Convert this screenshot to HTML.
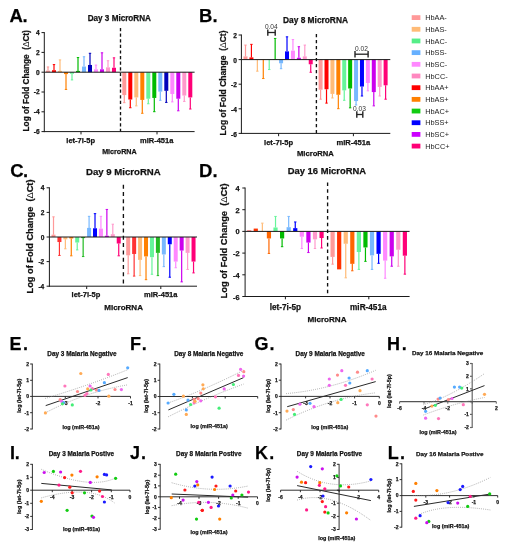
<!DOCTYPE html>
<html><head><meta charset="utf-8"><title>Figure</title>
<style>
html,body{margin:0;padding:0;background:#fff;}
body{width:507px;height:550px;overflow:hidden;}
svg{display:block;font-family:"Liberation Sans", sans-serif;filter:blur(0.4px);}
text.b{stroke:#151515;stroke-width:0.25px;stroke-linejoin:round;}
</style></head>
<body>
<svg width="507" height="550" viewBox="0 0 507 550">
<rect x="0" y="0" width="507" height="550" fill="#fff"/>
<text class="b" x="119.30" y="20.60" font-size="8.15" font-weight="bold" text-anchor="middle" fill="#111">Day 3 MicroRNA</text>
<text class="b" x="29.20" y="80.80" font-size="8.5" font-weight="bold" text-anchor="middle" fill="#111" transform="rotate(-90 29.20 80.80)" textLength="101.20" lengthAdjust="spacingAndGlyphs">Log of Fold Change  (<tspan font-weight="normal" stroke="none">Δ</tspan>Ct)</text>
<line x1="48.00" y1="70.62" x2="48.00" y2="66.95" stroke="#ff9a9a" stroke-width="1.2" stroke-linecap="butt"/>
<line x1="46.80" y1="66.95" x2="49.20" y2="66.95" stroke="#ff9a9a" stroke-width="1.0" stroke-linecap="butt"/>
<rect x="46.00" y="70.62" width="4.00" height="1.58" fill="#ff9a9a"/>
<line x1="54.00" y1="70.22" x2="54.00" y2="64.58" stroke="#ff0000" stroke-width="1.2" stroke-linecap="butt"/>
<line x1="52.80" y1="64.58" x2="55.20" y2="64.58" stroke="#ff0000" stroke-width="1.0" stroke-linecap="butt"/>
<rect x="52.00" y="70.22" width="4.00" height="1.98" fill="#ff0000"/>
<line x1="60.00" y1="70.91" x2="60.00" y2="59.92" stroke="#ffbb77" stroke-width="1.2" stroke-linecap="butt"/>
<line x1="58.80" y1="59.92" x2="61.20" y2="59.92" stroke="#ffbb77" stroke-width="1.0" stroke-linecap="butt"/>
<rect x="58.00" y="70.91" width="4.00" height="1.29" fill="#ffbb77"/>
<line x1="66.00" y1="74.08" x2="66.00" y2="89.43" stroke="#ff8000" stroke-width="1.2" stroke-linecap="butt"/>
<line x1="64.80" y1="89.43" x2="67.20" y2="89.43" stroke="#ff8000" stroke-width="1.0" stroke-linecap="butt"/>
<rect x="64.00" y="72.20" width="4.00" height="1.88" fill="#ff8000"/>
<line x1="72.00" y1="73.78" x2="72.00" y2="79.92" stroke="#66f59a" stroke-width="1.2" stroke-linecap="butt"/>
<line x1="70.80" y1="79.92" x2="73.20" y2="79.92" stroke="#66f59a" stroke-width="1.0" stroke-linecap="butt"/>
<rect x="70.00" y="72.20" width="4.00" height="1.58" fill="#66f59a"/>
<line x1="78.00" y1="70.91" x2="78.00" y2="57.55" stroke="#00bb00" stroke-width="1.2" stroke-linecap="butt"/>
<line x1="76.80" y1="57.55" x2="79.20" y2="57.55" stroke="#00bb00" stroke-width="1.0" stroke-linecap="butt"/>
<rect x="76.00" y="70.91" width="4.00" height="1.29" fill="#00bb00"/>
<line x1="84.00" y1="66.56" x2="84.00" y2="56.76" stroke="#77b8ff" stroke-width="1.2" stroke-linecap="butt"/>
<line x1="82.80" y1="56.76" x2="85.20" y2="56.76" stroke="#77b8ff" stroke-width="1.0" stroke-linecap="butt"/>
<rect x="82.00" y="66.56" width="4.00" height="5.64" fill="#77b8ff"/>
<line x1="90.00" y1="64.97" x2="90.00" y2="53.29" stroke="#0000bb" stroke-width="1.2" stroke-linecap="butt"/>
<line x1="88.80" y1="53.29" x2="91.20" y2="53.29" stroke="#0000bb" stroke-width="1.0" stroke-linecap="butt"/>
<rect x="88.00" y="64.97" width="4.00" height="7.23" fill="#0000bb"/>
<line x1="96.00" y1="69.33" x2="96.00" y2="65.07" stroke="#ff88ff" stroke-width="1.2" stroke-linecap="butt"/>
<line x1="94.80" y1="65.07" x2="97.20" y2="65.07" stroke="#ff88ff" stroke-width="1.0" stroke-linecap="butt"/>
<rect x="94.00" y="69.33" width="4.00" height="2.87" fill="#ff88ff"/>
<line x1="102.00" y1="69.33" x2="102.00" y2="52.80" stroke="#cc00ee" stroke-width="1.2" stroke-linecap="butt"/>
<line x1="100.80" y1="52.80" x2="103.20" y2="52.80" stroke="#cc00ee" stroke-width="1.0" stroke-linecap="butt"/>
<rect x="100.00" y="69.33" width="4.00" height="2.87" fill="#cc00ee"/>
<line x1="108.00" y1="67.35" x2="108.00" y2="60.72" stroke="#ff99cc" stroke-width="1.2" stroke-linecap="butt"/>
<line x1="106.80" y1="60.72" x2="109.20" y2="60.72" stroke="#ff99cc" stroke-width="1.0" stroke-linecap="butt"/>
<rect x="106.00" y="67.35" width="4.00" height="4.85" fill="#ff99cc"/>
<line x1="114.00" y1="67.75" x2="114.00" y2="57.84" stroke="#ff0077" stroke-width="1.2" stroke-linecap="butt"/>
<line x1="112.80" y1="57.84" x2="115.20" y2="57.84" stroke="#ff0077" stroke-width="1.0" stroke-linecap="butt"/>
<rect x="112.00" y="67.75" width="4.00" height="4.45" fill="#ff0077"/>
<line x1="124.30" y1="95.07" x2="124.30" y2="102.69" stroke="#ff9a9a" stroke-width="1.2" stroke-linecap="butt"/>
<line x1="123.10" y1="102.69" x2="125.50" y2="102.69" stroke="#ff9a9a" stroke-width="1.0" stroke-linecap="butt"/>
<rect x="122.30" y="72.20" width="4.00" height="22.87" fill="#ff9a9a"/>
<line x1="130.30" y1="99.52" x2="130.30" y2="107.74" stroke="#ff0000" stroke-width="1.2" stroke-linecap="butt"/>
<line x1="129.10" y1="107.74" x2="131.50" y2="107.74" stroke="#ff0000" stroke-width="1.0" stroke-linecap="butt"/>
<rect x="128.30" y="72.20" width="4.00" height="27.32" fill="#ff0000"/>
<line x1="136.30" y1="97.44" x2="136.30" y2="105.86" stroke="#ffbb77" stroke-width="1.2" stroke-linecap="butt"/>
<line x1="135.10" y1="105.86" x2="137.50" y2="105.86" stroke="#ffbb77" stroke-width="1.0" stroke-linecap="butt"/>
<rect x="134.30" y="72.20" width="4.00" height="25.24" fill="#ffbb77"/>
<line x1="142.30" y1="99.92" x2="142.30" y2="113.29" stroke="#ff8000" stroke-width="1.2" stroke-linecap="butt"/>
<line x1="141.10" y1="113.29" x2="143.50" y2="113.29" stroke="#ff8000" stroke-width="1.0" stroke-linecap="butt"/>
<rect x="140.30" y="72.20" width="4.00" height="27.72" fill="#ff8000"/>
<line x1="148.30" y1="98.73" x2="148.30" y2="103.78" stroke="#66f59a" stroke-width="1.2" stroke-linecap="butt"/>
<line x1="147.10" y1="103.78" x2="149.50" y2="103.78" stroke="#66f59a" stroke-width="1.0" stroke-linecap="butt"/>
<rect x="146.30" y="72.20" width="4.00" height="26.53" fill="#66f59a"/>
<line x1="154.30" y1="97.94" x2="154.30" y2="111.70" stroke="#00bb00" stroke-width="1.2" stroke-linecap="butt"/>
<line x1="153.10" y1="111.70" x2="155.50" y2="111.70" stroke="#00bb00" stroke-width="1.0" stroke-linecap="butt"/>
<rect x="152.30" y="72.20" width="4.00" height="25.74" fill="#00bb00"/>
<line x1="160.30" y1="91.60" x2="160.30" y2="100.32" stroke="#77b8ff" stroke-width="1.2" stroke-linecap="butt"/>
<line x1="159.10" y1="100.32" x2="161.50" y2="100.32" stroke="#77b8ff" stroke-width="1.0" stroke-linecap="butt"/>
<rect x="158.30" y="72.20" width="4.00" height="19.40" fill="#77b8ff"/>
<line x1="166.30" y1="90.81" x2="166.30" y2="102.40" stroke="#0000bb" stroke-width="1.2" stroke-linecap="butt"/>
<line x1="165.10" y1="102.40" x2="167.50" y2="102.40" stroke="#0000bb" stroke-width="1.0" stroke-linecap="butt"/>
<rect x="164.30" y="72.20" width="4.00" height="18.61" fill="#0000bb"/>
<line x1="172.30" y1="93.98" x2="172.30" y2="101.90" stroke="#ff88ff" stroke-width="1.2" stroke-linecap="butt"/>
<line x1="171.10" y1="101.90" x2="173.50" y2="101.90" stroke="#ff88ff" stroke-width="1.0" stroke-linecap="butt"/>
<rect x="170.30" y="72.20" width="4.00" height="21.78" fill="#ff88ff"/>
<line x1="178.30" y1="98.73" x2="178.30" y2="110.81" stroke="#cc00ee" stroke-width="1.2" stroke-linecap="butt"/>
<line x1="177.10" y1="110.81" x2="179.50" y2="110.81" stroke="#cc00ee" stroke-width="1.0" stroke-linecap="butt"/>
<rect x="176.30" y="72.20" width="4.00" height="26.53" fill="#cc00ee"/>
<line x1="184.30" y1="95.56" x2="184.30" y2="101.41" stroke="#ff99cc" stroke-width="1.2" stroke-linecap="butt"/>
<line x1="183.10" y1="101.41" x2="185.50" y2="101.41" stroke="#ff99cc" stroke-width="1.0" stroke-linecap="butt"/>
<rect x="182.30" y="72.20" width="4.00" height="23.36" fill="#ff99cc"/>
<line x1="190.30" y1="97.44" x2="190.30" y2="109.03" stroke="#ff0077" stroke-width="1.2" stroke-linecap="butt"/>
<line x1="189.10" y1="109.03" x2="191.50" y2="109.03" stroke="#ff0077" stroke-width="1.0" stroke-linecap="butt"/>
<rect x="188.30" y="72.20" width="4.00" height="25.24" fill="#ff0077"/>
<line x1="44.30" y1="72.20" x2="194.60" y2="72.20" stroke="#1a1a1a" stroke-width="1.0" stroke-linecap="butt"/>
<line x1="120.50" y1="28.00" x2="120.50" y2="131.60" stroke="#111" stroke-width="1.35" stroke-dasharray="3.2,2.4" stroke-linecap="butt"/>
<line x1="44.30" y1="32.10" x2="44.30" y2="132.10" stroke="#1a1a1a" stroke-width="1.0" stroke-linecap="butt"/>
<line x1="43.80" y1="131.60" x2="194.60" y2="131.60" stroke="#1a1a1a" stroke-width="1.0" stroke-linecap="butt"/>
<line x1="41.50" y1="32.60" x2="44.30" y2="32.60" stroke="#1a1a1a" stroke-width="1.0" stroke-linecap="butt"/>
<text class="b" x="39.70" y="34.98" font-size="6.6" font-weight="bold" text-anchor="end" fill="#111">4</text>
<line x1="41.50" y1="52.40" x2="44.30" y2="52.40" stroke="#1a1a1a" stroke-width="1.0" stroke-linecap="butt"/>
<text class="b" x="39.70" y="54.78" font-size="6.6" font-weight="bold" text-anchor="end" fill="#111">2</text>
<line x1="41.50" y1="72.20" x2="44.30" y2="72.20" stroke="#1a1a1a" stroke-width="1.0" stroke-linecap="butt"/>
<text class="b" x="39.70" y="74.58" font-size="6.6" font-weight="bold" text-anchor="end" fill="#111">0</text>
<line x1="41.50" y1="92.00" x2="44.30" y2="92.00" stroke="#1a1a1a" stroke-width="1.0" stroke-linecap="butt"/>
<text class="b" x="39.70" y="94.38" font-size="6.6" font-weight="bold" text-anchor="end" fill="#111">-2</text>
<line x1="41.50" y1="111.80" x2="44.30" y2="111.80" stroke="#1a1a1a" stroke-width="1.0" stroke-linecap="butt"/>
<text class="b" x="39.70" y="114.18" font-size="6.6" font-weight="bold" text-anchor="end" fill="#111">-4</text>
<line x1="41.50" y1="131.60" x2="44.30" y2="131.60" stroke="#1a1a1a" stroke-width="1.0" stroke-linecap="butt"/>
<text class="b" x="39.70" y="133.98" font-size="6.6" font-weight="bold" text-anchor="end" fill="#111">-6</text>
<line x1="81.00" y1="131.60" x2="81.00" y2="134.40" stroke="#1a1a1a" stroke-width="1.0" stroke-linecap="butt"/>
<line x1="157.00" y1="131.60" x2="157.00" y2="134.40" stroke="#1a1a1a" stroke-width="1.0" stroke-linecap="butt"/>
<text class="b" x="80.70" y="142.60" font-size="7.5" font-weight="bold" text-anchor="middle" fill="#111">let-7i-5p</text>
<text class="b" x="156.70" y="142.60" font-size="7.5" font-weight="bold" text-anchor="middle" fill="#111">miR-451a</text>
<text class="b" x="119.40" y="153.80" font-size="7.15" font-weight="bold" text-anchor="middle" fill="#111">MicroRNA</text>
<text class="b" x="315.50" y="23.30" font-size="8.36" font-weight="bold" text-anchor="middle" fill="#111">Day 8 MicroRNA</text>
<text class="b" x="225.90" y="83.00" font-size="8.6" font-weight="bold" text-anchor="middle" fill="#111" transform="rotate(-90 225.90 83.00)" textLength="105.00" lengthAdjust="spacingAndGlyphs">Log of Fold Change  (<tspan font-weight="normal" stroke="none">Δ</tspan>Ct)</text>
<line x1="245.50" y1="56.40" x2="245.50" y2="45.09" stroke="#ff9a9a" stroke-width="1.2" stroke-linecap="butt"/>
<line x1="244.30" y1="45.09" x2="246.70" y2="45.09" stroke="#ff9a9a" stroke-width="1.0" stroke-linecap="butt"/>
<rect x="243.50" y="56.40" width="4.00" height="3.20" fill="#ff9a9a"/>
<line x1="251.43" y1="57.39" x2="251.43" y2="44.35" stroke="#ff0000" stroke-width="1.2" stroke-linecap="butt"/>
<line x1="250.23" y1="44.35" x2="252.63" y2="44.35" stroke="#ff0000" stroke-width="1.0" stroke-linecap="butt"/>
<rect x="249.43" y="57.39" width="4.00" height="2.21" fill="#ff0000"/>
<line x1="257.36" y1="59.85" x2="257.36" y2="71.16" stroke="#ffbb77" stroke-width="1.2" stroke-linecap="butt"/>
<line x1="256.16" y1="71.16" x2="258.56" y2="71.16" stroke="#ffbb77" stroke-width="1.0" stroke-linecap="butt"/>
<rect x="255.36" y="59.60" width="4.00" height="0.25" fill="#ffbb77"/>
<line x1="263.29" y1="59.85" x2="263.29" y2="78.54" stroke="#ff8000" stroke-width="1.2" stroke-linecap="butt"/>
<line x1="262.09" y1="78.54" x2="264.49" y2="78.54" stroke="#ff8000" stroke-width="1.0" stroke-linecap="butt"/>
<rect x="261.29" y="59.60" width="4.00" height="0.25" fill="#ff8000"/>
<line x1="269.22" y1="59.97" x2="269.22" y2="69.56" stroke="#66f59a" stroke-width="1.2" stroke-linecap="butt"/>
<line x1="268.02" y1="69.56" x2="270.42" y2="69.56" stroke="#66f59a" stroke-width="1.0" stroke-linecap="butt"/>
<rect x="267.22" y="59.60" width="4.00" height="0.37" fill="#66f59a"/>
<line x1="275.15" y1="59.11" x2="275.15" y2="38.44" stroke="#00bb00" stroke-width="1.2" stroke-linecap="butt"/>
<line x1="273.95" y1="38.44" x2="276.35" y2="38.44" stroke="#00bb00" stroke-width="1.0" stroke-linecap="butt"/>
<rect x="273.15" y="59.11" width="4.00" height="0.49" fill="#00bb00"/>
<line x1="281.08" y1="63.29" x2="281.08" y2="68.70" stroke="#77b8ff" stroke-width="1.2" stroke-linecap="butt"/>
<line x1="279.88" y1="68.70" x2="282.28" y2="68.70" stroke="#77b8ff" stroke-width="1.0" stroke-linecap="butt"/>
<rect x="279.08" y="59.60" width="4.00" height="3.69" fill="#77b8ff"/>
<line x1="287.01" y1="51.36" x2="287.01" y2="36.84" stroke="#0000ff" stroke-width="1.2" stroke-linecap="butt"/>
<line x1="285.81" y1="36.84" x2="288.21" y2="36.84" stroke="#0000ff" stroke-width="1.0" stroke-linecap="butt"/>
<rect x="285.01" y="51.36" width="4.00" height="8.24" fill="#0000ff"/>
<line x1="292.94" y1="50.62" x2="292.94" y2="39.55" stroke="#ff88ff" stroke-width="1.2" stroke-linecap="butt"/>
<line x1="291.74" y1="39.55" x2="294.14" y2="39.55" stroke="#ff88ff" stroke-width="1.0" stroke-linecap="butt"/>
<rect x="290.94" y="50.62" width="4.00" height="8.98" fill="#ff88ff"/>
<line x1="298.87" y1="57.76" x2="298.87" y2="46.69" stroke="#cc00ee" stroke-width="1.2" stroke-linecap="butt"/>
<line x1="297.67" y1="46.69" x2="300.07" y2="46.69" stroke="#cc00ee" stroke-width="1.0" stroke-linecap="butt"/>
<rect x="296.87" y="57.76" width="4.00" height="1.84" fill="#cc00ee"/>
<line x1="304.80" y1="56.40" x2="304.80" y2="45.09" stroke="#ff99cc" stroke-width="1.2" stroke-linecap="butt"/>
<line x1="303.60" y1="45.09" x2="306.00" y2="45.09" stroke="#ff99cc" stroke-width="1.0" stroke-linecap="butt"/>
<rect x="302.80" y="56.40" width="4.00" height="3.20" fill="#ff99cc"/>
<line x1="310.73" y1="64.27" x2="310.73" y2="72.27" stroke="#ff0077" stroke-width="1.2" stroke-linecap="butt"/>
<line x1="309.53" y1="72.27" x2="311.93" y2="72.27" stroke="#ff0077" stroke-width="1.0" stroke-linecap="butt"/>
<rect x="308.73" y="59.60" width="4.00" height="4.67" fill="#ff0077"/>
<line x1="320.60" y1="89.74" x2="320.60" y2="99.21" stroke="#ff9a9a" stroke-width="1.2" stroke-linecap="butt"/>
<line x1="319.40" y1="99.21" x2="321.80" y2="99.21" stroke="#ff9a9a" stroke-width="1.0" stroke-linecap="butt"/>
<rect x="318.60" y="59.60" width="4.00" height="30.14" fill="#ff9a9a"/>
<line x1="326.51" y1="89.24" x2="326.51" y2="103.14" stroke="#ff0000" stroke-width="1.2" stroke-linecap="butt"/>
<line x1="325.31" y1="103.14" x2="327.71" y2="103.14" stroke="#ff0000" stroke-width="1.0" stroke-linecap="butt"/>
<rect x="324.51" y="59.60" width="4.00" height="29.64" fill="#ff0000"/>
<line x1="332.42" y1="93.92" x2="332.42" y2="97.98" stroke="#ffbb77" stroke-width="1.2" stroke-linecap="butt"/>
<line x1="331.22" y1="97.98" x2="333.62" y2="97.98" stroke="#ffbb77" stroke-width="1.0" stroke-linecap="butt"/>
<rect x="330.42" y="59.60" width="4.00" height="34.32" fill="#ffbb77"/>
<line x1="338.33" y1="94.78" x2="338.33" y2="108.68" stroke="#ff8000" stroke-width="1.2" stroke-linecap="butt"/>
<line x1="337.13" y1="108.68" x2="339.53" y2="108.68" stroke="#ff8000" stroke-width="1.0" stroke-linecap="butt"/>
<rect x="336.33" y="59.60" width="4.00" height="35.18" fill="#ff8000"/>
<line x1="344.24" y1="90.35" x2="344.24" y2="100.31" stroke="#66f59a" stroke-width="1.2" stroke-linecap="butt"/>
<line x1="343.04" y1="100.31" x2="345.44" y2="100.31" stroke="#66f59a" stroke-width="1.0" stroke-linecap="butt"/>
<rect x="342.24" y="59.60" width="4.00" height="30.75" fill="#66f59a"/>
<line x1="350.15" y1="88.50" x2="350.15" y2="107.82" stroke="#00bb00" stroke-width="1.2" stroke-linecap="butt"/>
<line x1="348.95" y1="107.82" x2="351.35" y2="107.82" stroke="#00bb00" stroke-width="1.0" stroke-linecap="butt"/>
<rect x="348.15" y="59.60" width="4.00" height="28.90" fill="#00bb00"/>
<line x1="356.06" y1="101.05" x2="356.06" y2="104.99" stroke="#77b8ff" stroke-width="1.2" stroke-linecap="butt"/>
<line x1="354.86" y1="104.99" x2="357.26" y2="104.99" stroke="#77b8ff" stroke-width="1.0" stroke-linecap="butt"/>
<rect x="354.06" y="59.60" width="4.00" height="41.45" fill="#77b8ff"/>
<line x1="361.97" y1="86.54" x2="361.97" y2="96.01" stroke="#0000ff" stroke-width="1.2" stroke-linecap="butt"/>
<line x1="360.77" y1="96.01" x2="363.17" y2="96.01" stroke="#0000ff" stroke-width="1.0" stroke-linecap="butt"/>
<rect x="359.97" y="59.60" width="4.00" height="26.94" fill="#0000ff"/>
<line x1="367.88" y1="82.97" x2="367.88" y2="90.84" stroke="#ff88ff" stroke-width="1.2" stroke-linecap="butt"/>
<line x1="366.68" y1="90.84" x2="369.08" y2="90.84" stroke="#ff88ff" stroke-width="1.0" stroke-linecap="butt"/>
<rect x="365.88" y="59.60" width="4.00" height="23.37" fill="#ff88ff"/>
<line x1="373.79" y1="92.07" x2="373.79" y2="105.85" stroke="#cc00ee" stroke-width="1.2" stroke-linecap="butt"/>
<line x1="372.59" y1="105.85" x2="374.99" y2="105.85" stroke="#cc00ee" stroke-width="1.0" stroke-linecap="butt"/>
<rect x="371.79" y="59.60" width="4.00" height="32.47" fill="#cc00ee"/>
<line x1="379.70" y1="86.91" x2="379.70" y2="96.01" stroke="#ff99cc" stroke-width="1.2" stroke-linecap="butt"/>
<line x1="378.50" y1="96.01" x2="380.90" y2="96.01" stroke="#ff99cc" stroke-width="1.0" stroke-linecap="butt"/>
<rect x="377.70" y="59.60" width="4.00" height="27.31" fill="#ff99cc"/>
<line x1="385.61" y1="85.31" x2="385.61" y2="99.21" stroke="#ff0077" stroke-width="1.2" stroke-linecap="butt"/>
<line x1="384.41" y1="99.21" x2="386.81" y2="99.21" stroke="#ff0077" stroke-width="1.0" stroke-linecap="butt"/>
<rect x="383.61" y="59.60" width="4.00" height="25.71" fill="#ff0077"/>
<line x1="241.40" y1="59.60" x2="390.30" y2="59.60" stroke="#1a1a1a" stroke-width="1.0" stroke-linecap="butt"/>
<line x1="316.40" y1="34.00" x2="316.40" y2="133.40" stroke="#111" stroke-width="1.35" stroke-dasharray="3.3,2.7" stroke-linecap="butt"/>
<line x1="241.40" y1="34.50" x2="241.40" y2="133.90" stroke="#1a1a1a" stroke-width="1.0" stroke-linecap="butt"/>
<line x1="240.90" y1="133.40" x2="390.30" y2="133.40" stroke="#1a1a1a" stroke-width="1.0" stroke-linecap="butt"/>
<line x1="238.60" y1="35.00" x2="241.40" y2="35.00" stroke="#1a1a1a" stroke-width="1.0" stroke-linecap="butt"/>
<text class="b" x="236.90" y="38.28" font-size="6.6" font-weight="bold" text-anchor="end" fill="#111">2</text>
<line x1="238.60" y1="59.60" x2="241.40" y2="59.60" stroke="#1a1a1a" stroke-width="1.0" stroke-linecap="butt"/>
<text class="b" x="236.90" y="62.88" font-size="6.6" font-weight="bold" text-anchor="end" fill="#111">0</text>
<line x1="238.60" y1="84.20" x2="241.40" y2="84.20" stroke="#1a1a1a" stroke-width="1.0" stroke-linecap="butt"/>
<text class="b" x="236.90" y="87.48" font-size="6.6" font-weight="bold" text-anchor="end" fill="#111">-2</text>
<line x1="238.60" y1="108.80" x2="241.40" y2="108.80" stroke="#1a1a1a" stroke-width="1.0" stroke-linecap="butt"/>
<text class="b" x="236.90" y="112.08" font-size="6.6" font-weight="bold" text-anchor="end" fill="#111">-4</text>
<line x1="238.60" y1="133.40" x2="241.40" y2="133.40" stroke="#1a1a1a" stroke-width="1.0" stroke-linecap="butt"/>
<text class="b" x="236.90" y="136.68" font-size="6.6" font-weight="bold" text-anchor="end" fill="#111">-6</text>
<line x1="278.60" y1="133.40" x2="278.60" y2="136.20" stroke="#1a1a1a" stroke-width="1.0" stroke-linecap="butt"/>
<line x1="353.40" y1="133.40" x2="353.40" y2="136.20" stroke="#1a1a1a" stroke-width="1.0" stroke-linecap="butt"/>
<text class="b" x="278.60" y="144.90" font-size="7.6" font-weight="bold" text-anchor="middle" fill="#111">let-7i-5p</text>
<text class="b" x="353.40" y="144.90" font-size="7.6" font-weight="bold" text-anchor="middle" fill="#111">miR-451a</text>
<text class="b" x="315.40" y="155.80" font-size="7.65" font-weight="bold" text-anchor="middle" fill="#111">MicroRNA</text>
<text class="b" x="123.40" y="174.80" font-size="9.6" font-weight="bold" text-anchor="middle" fill="#111">Day 9 MicroRNA</text>
<text class="b" x="32.60" y="236.50" font-size="9.3" font-weight="bold" text-anchor="middle" fill="#111" transform="rotate(-90 32.60 236.50)" textLength="114.00" lengthAdjust="spacingAndGlyphs">Log of Fold Change  (<tspan font-weight="normal" stroke="none">Δ</tspan>Ct)</text>
<line x1="53.50" y1="234.66" x2="53.50" y2="216.83" stroke="#ff9a9a" stroke-width="1.2" stroke-linecap="butt"/>
<line x1="52.30" y1="216.83" x2="54.70" y2="216.83" stroke="#ff9a9a" stroke-width="1.0" stroke-linecap="butt"/>
<rect x="51.50" y="234.66" width="4.00" height="2.34" fill="#ff9a9a"/>
<line x1="59.43" y1="242.04" x2="59.43" y2="255.45" stroke="#ff3333" stroke-width="1.2" stroke-linecap="butt"/>
<line x1="58.23" y1="255.45" x2="60.63" y2="255.45" stroke="#ff3333" stroke-width="1.0" stroke-linecap="butt"/>
<rect x="57.43" y="237.00" width="4.00" height="5.04" fill="#ff3333"/>
<line x1="65.36" y1="239.34" x2="65.36" y2="248.81" stroke="#ffbb77" stroke-width="1.2" stroke-linecap="butt"/>
<line x1="64.16" y1="248.81" x2="66.56" y2="248.81" stroke="#ffbb77" stroke-width="1.0" stroke-linecap="butt"/>
<rect x="63.36" y="237.00" width="4.00" height="2.34" fill="#ffbb77"/>
<line x1="71.29" y1="238.48" x2="71.29" y2="255.82" stroke="#ff8000" stroke-width="1.2" stroke-linecap="butt"/>
<line x1="70.09" y1="255.82" x2="72.49" y2="255.82" stroke="#ff8000" stroke-width="1.0" stroke-linecap="butt"/>
<rect x="69.29" y="237.00" width="4.00" height="1.48" fill="#ff8000"/>
<line x1="77.22" y1="242.53" x2="77.22" y2="249.91" stroke="#66f59a" stroke-width="1.2" stroke-linecap="butt"/>
<line x1="76.02" y1="249.91" x2="78.42" y2="249.91" stroke="#66f59a" stroke-width="1.0" stroke-linecap="butt"/>
<rect x="75.22" y="237.00" width="4.00" height="5.53" fill="#66f59a"/>
<line x1="83.15" y1="238.11" x2="83.15" y2="256.56" stroke="#22bb22" stroke-width="1.2" stroke-linecap="butt"/>
<line x1="81.95" y1="256.56" x2="84.35" y2="256.56" stroke="#22bb22" stroke-width="1.0" stroke-linecap="butt"/>
<rect x="81.15" y="237.00" width="4.00" height="1.11" fill="#22bb22"/>
<line x1="89.08" y1="227.90" x2="89.08" y2="216.34" stroke="#77b8ff" stroke-width="1.2" stroke-linecap="butt"/>
<line x1="87.88" y1="216.34" x2="90.28" y2="216.34" stroke="#77b8ff" stroke-width="1.0" stroke-linecap="butt"/>
<rect x="87.08" y="227.90" width="4.00" height="9.10" fill="#77b8ff"/>
<line x1="95.01" y1="228.27" x2="95.01" y2="213.63" stroke="#0000ff" stroke-width="1.2" stroke-linecap="butt"/>
<line x1="93.81" y1="213.63" x2="96.21" y2="213.63" stroke="#0000ff" stroke-width="1.0" stroke-linecap="butt"/>
<rect x="93.01" y="228.27" width="4.00" height="8.73" fill="#0000ff"/>
<line x1="100.94" y1="228.64" x2="100.94" y2="216.34" stroke="#ff88ff" stroke-width="1.2" stroke-linecap="butt"/>
<line x1="99.74" y1="216.34" x2="102.14" y2="216.34" stroke="#ff88ff" stroke-width="1.0" stroke-linecap="butt"/>
<rect x="98.94" y="228.64" width="4.00" height="8.36" fill="#ff88ff"/>
<line x1="106.87" y1="235.77" x2="106.87" y2="209.45" stroke="#cc00ee" stroke-width="1.2" stroke-linecap="butt"/>
<line x1="105.67" y1="209.45" x2="108.07" y2="209.45" stroke="#cc00ee" stroke-width="1.0" stroke-linecap="butt"/>
<rect x="104.87" y="235.77" width="4.00" height="1.23" fill="#cc00ee"/>
<line x1="112.80" y1="234.17" x2="112.80" y2="224.21" stroke="#ff99cc" stroke-width="1.2" stroke-linecap="butt"/>
<line x1="111.60" y1="224.21" x2="114.00" y2="224.21" stroke="#ff99cc" stroke-width="1.0" stroke-linecap="butt"/>
<rect x="110.80" y="234.17" width="4.00" height="2.83" fill="#ff99cc"/>
<line x1="118.73" y1="243.52" x2="118.73" y2="255.82" stroke="#ff0077" stroke-width="1.2" stroke-linecap="butt"/>
<line x1="117.53" y1="255.82" x2="119.93" y2="255.82" stroke="#ff0077" stroke-width="1.0" stroke-linecap="butt"/>
<rect x="116.73" y="237.00" width="4.00" height="6.52" fill="#ff0077"/>
<line x1="128.20" y1="255.33" x2="128.20" y2="273.78" stroke="#ff9a9a" stroke-width="1.2" stroke-linecap="butt"/>
<line x1="127.00" y1="273.78" x2="129.40" y2="273.78" stroke="#ff9a9a" stroke-width="1.0" stroke-linecap="butt"/>
<rect x="126.20" y="237.00" width="4.00" height="18.33" fill="#ff9a9a"/>
<line x1="134.14" y1="253.97" x2="134.14" y2="276.11" stroke="#ff3333" stroke-width="1.2" stroke-linecap="butt"/>
<line x1="132.94" y1="276.11" x2="135.34" y2="276.11" stroke="#ff3333" stroke-width="1.0" stroke-linecap="butt"/>
<rect x="132.14" y="237.00" width="4.00" height="16.97" fill="#ff3333"/>
<line x1="140.08" y1="259.88" x2="140.08" y2="275.62" stroke="#ffbb77" stroke-width="1.2" stroke-linecap="butt"/>
<line x1="138.88" y1="275.62" x2="141.28" y2="275.62" stroke="#ffbb77" stroke-width="1.0" stroke-linecap="butt"/>
<rect x="138.08" y="237.00" width="4.00" height="22.88" fill="#ffbb77"/>
<line x1="146.02" y1="256.43" x2="146.02" y2="279.68" stroke="#ff8000" stroke-width="1.2" stroke-linecap="butt"/>
<line x1="144.82" y1="279.68" x2="147.22" y2="279.68" stroke="#ff8000" stroke-width="1.0" stroke-linecap="butt"/>
<rect x="144.02" y="237.00" width="4.00" height="19.43" fill="#ff8000"/>
<line x1="151.96" y1="257.17" x2="151.96" y2="274.27" stroke="#66f59a" stroke-width="1.2" stroke-linecap="butt"/>
<line x1="150.76" y1="274.27" x2="153.16" y2="274.27" stroke="#66f59a" stroke-width="1.0" stroke-linecap="butt"/>
<rect x="149.96" y="237.00" width="4.00" height="20.17" fill="#66f59a"/>
<line x1="157.90" y1="252.87" x2="157.90" y2="275.62" stroke="#22bb22" stroke-width="1.2" stroke-linecap="butt"/>
<line x1="156.70" y1="275.62" x2="159.10" y2="275.62" stroke="#22bb22" stroke-width="1.0" stroke-linecap="butt"/>
<rect x="155.90" y="237.00" width="4.00" height="15.87" fill="#22bb22"/>
<line x1="163.84" y1="254.47" x2="163.84" y2="266.64" stroke="#77b8ff" stroke-width="1.2" stroke-linecap="butt"/>
<line x1="162.64" y1="266.64" x2="165.04" y2="266.64" stroke="#77b8ff" stroke-width="1.0" stroke-linecap="butt"/>
<rect x="161.84" y="237.00" width="4.00" height="17.47" fill="#77b8ff"/>
<line x1="169.78" y1="244.26" x2="169.78" y2="277.22" stroke="#0000ff" stroke-width="1.2" stroke-linecap="butt"/>
<line x1="168.58" y1="277.22" x2="170.98" y2="277.22" stroke="#0000ff" stroke-width="1.0" stroke-linecap="butt"/>
<rect x="167.78" y="237.00" width="4.00" height="7.26" fill="#0000ff"/>
<line x1="175.72" y1="261.60" x2="175.72" y2="267.75" stroke="#ff88ff" stroke-width="1.2" stroke-linecap="butt"/>
<line x1="174.52" y1="267.75" x2="176.92" y2="267.75" stroke="#ff88ff" stroke-width="1.0" stroke-linecap="butt"/>
<rect x="173.72" y="237.00" width="4.00" height="24.60" fill="#ff88ff"/>
<line x1="181.66" y1="250.53" x2="181.66" y2="281.89" stroke="#cc00ee" stroke-width="1.2" stroke-linecap="butt"/>
<line x1="180.46" y1="281.89" x2="182.86" y2="281.89" stroke="#cc00ee" stroke-width="1.0" stroke-linecap="butt"/>
<rect x="179.66" y="237.00" width="4.00" height="13.53" fill="#cc00ee"/>
<line x1="187.60" y1="252.87" x2="187.60" y2="269.47" stroke="#ff99cc" stroke-width="1.2" stroke-linecap="butt"/>
<line x1="186.40" y1="269.47" x2="188.80" y2="269.47" stroke="#ff99cc" stroke-width="1.0" stroke-linecap="butt"/>
<rect x="185.60" y="237.00" width="4.00" height="15.87" fill="#ff99cc"/>
<line x1="193.54" y1="261.60" x2="193.54" y2="272.92" stroke="#ff0077" stroke-width="1.2" stroke-linecap="butt"/>
<line x1="192.34" y1="272.92" x2="194.74" y2="272.92" stroke="#ff0077" stroke-width="1.0" stroke-linecap="butt"/>
<rect x="191.54" y="237.00" width="4.00" height="24.60" fill="#ff0077"/>
<line x1="49.40" y1="237.00" x2="197.00" y2="237.00" stroke="#1a1a1a" stroke-width="1.0" stroke-linecap="butt"/>
<line x1="123.40" y1="184.70" x2="123.40" y2="286.20" stroke="#111" stroke-width="1.35" stroke-dasharray="4.0,3.3" stroke-linecap="butt"/>
<line x1="49.40" y1="187.30" x2="49.40" y2="286.70" stroke="#1a1a1a" stroke-width="1.0" stroke-linecap="butt"/>
<line x1="48.90" y1="286.20" x2="197.00" y2="286.20" stroke="#1a1a1a" stroke-width="1.0" stroke-linecap="butt"/>
<line x1="46.60" y1="187.80" x2="49.40" y2="187.80" stroke="#1a1a1a" stroke-width="1.0" stroke-linecap="butt"/>
<text class="b" x="44.30" y="190.48" font-size="6.6" font-weight="bold" text-anchor="end" fill="#111">4</text>
<line x1="46.60" y1="212.40" x2="49.40" y2="212.40" stroke="#1a1a1a" stroke-width="1.0" stroke-linecap="butt"/>
<text class="b" x="44.30" y="215.08" font-size="6.6" font-weight="bold" text-anchor="end" fill="#111">2</text>
<line x1="46.60" y1="237.00" x2="49.40" y2="237.00" stroke="#1a1a1a" stroke-width="1.0" stroke-linecap="butt"/>
<text class="b" x="44.30" y="239.68" font-size="6.6" font-weight="bold" text-anchor="end" fill="#111">0</text>
<line x1="46.60" y1="261.60" x2="49.40" y2="261.60" stroke="#1a1a1a" stroke-width="1.0" stroke-linecap="butt"/>
<text class="b" x="44.30" y="264.28" font-size="6.6" font-weight="bold" text-anchor="end" fill="#111">-2</text>
<line x1="46.60" y1="286.20" x2="49.40" y2="286.20" stroke="#1a1a1a" stroke-width="1.0" stroke-linecap="butt"/>
<text class="b" x="44.30" y="288.88" font-size="6.6" font-weight="bold" text-anchor="end" fill="#111">-4</text>
<line x1="86.70" y1="286.20" x2="86.70" y2="289.00" stroke="#1a1a1a" stroke-width="1.0" stroke-linecap="butt"/>
<line x1="160.80" y1="286.20" x2="160.80" y2="289.00" stroke="#1a1a1a" stroke-width="1.0" stroke-linecap="butt"/>
<text class="b" x="86.00" y="297.20" font-size="7.5" font-weight="bold" text-anchor="middle" fill="#111">let-7i-5p</text>
<text class="b" x="160.80" y="297.20" font-size="7.5" font-weight="bold" text-anchor="middle" fill="#111">miR-451a</text>
<text class="b" x="123.60" y="310.00" font-size="8.0" font-weight="bold" text-anchor="middle" fill="#111">MicroRNA</text>
<text class="b" x="326.90" y="174.20" font-size="9.4" font-weight="bold" text-anchor="middle" fill="#111">Day 16 MicroRNA</text>
<text class="b" x="227.30" y="241.00" font-size="9.3" font-weight="bold" text-anchor="middle" fill="#111" transform="rotate(-90 227.30 241.00)" textLength="115.00" lengthAdjust="spacingAndGlyphs">Log of Fold Change  (<tspan font-weight="normal" stroke="none">Δ</tspan>Ct)</text>
<rect x="247.10" y="229.99" width="4.20" height="1.41" fill="#ff9a9a"/>
<rect x="253.68" y="228.58" width="4.20" height="2.82" fill="#ff3300"/>
<line x1="262.36" y1="231.18" x2="262.36" y2="223.15" stroke="#ffbb77" stroke-width="1.2" stroke-linecap="butt"/>
<line x1="261.16" y1="223.15" x2="263.56" y2="223.15" stroke="#ffbb77" stroke-width="1.0" stroke-linecap="butt"/>
<rect x="260.26" y="231.18" width="4.20" height="0.22" fill="#ffbb77"/>
<line x1="268.94" y1="238.45" x2="268.94" y2="253.43" stroke="#ff6600" stroke-width="1.2" stroke-linecap="butt"/>
<line x1="267.74" y1="253.43" x2="270.14" y2="253.43" stroke="#ff6600" stroke-width="1.0" stroke-linecap="butt"/>
<rect x="266.84" y="231.40" width="4.20" height="7.05" fill="#ff6600"/>
<line x1="275.52" y1="227.49" x2="275.52" y2="216.43" stroke="#66f59a" stroke-width="1.2" stroke-linecap="butt"/>
<line x1="274.32" y1="216.43" x2="276.72" y2="216.43" stroke="#66f59a" stroke-width="1.0" stroke-linecap="butt"/>
<rect x="273.42" y="227.49" width="4.20" height="3.91" fill="#66f59a"/>
<line x1="282.10" y1="238.45" x2="282.10" y2="246.70" stroke="#00bb00" stroke-width="1.2" stroke-linecap="butt"/>
<line x1="280.90" y1="246.70" x2="283.30" y2="246.70" stroke="#00bb00" stroke-width="1.0" stroke-linecap="butt"/>
<rect x="280.00" y="231.40" width="4.20" height="7.05" fill="#00bb00"/>
<line x1="288.68" y1="227.17" x2="288.68" y2="216.43" stroke="#77b8ff" stroke-width="1.2" stroke-linecap="butt"/>
<line x1="287.48" y1="216.43" x2="289.88" y2="216.43" stroke="#77b8ff" stroke-width="1.0" stroke-linecap="butt"/>
<rect x="286.58" y="227.17" width="4.20" height="4.23" fill="#77b8ff"/>
<line x1="295.26" y1="228.15" x2="295.26" y2="221.96" stroke="#0000ff" stroke-width="1.2" stroke-linecap="butt"/>
<line x1="294.06" y1="221.96" x2="296.46" y2="221.96" stroke="#0000ff" stroke-width="1.0" stroke-linecap="butt"/>
<rect x="293.16" y="228.15" width="4.20" height="3.25" fill="#0000ff"/>
<line x1="301.84" y1="236.72" x2="301.84" y2="248.54" stroke="#ff88ff" stroke-width="1.2" stroke-linecap="butt"/>
<line x1="300.64" y1="248.54" x2="303.04" y2="248.54" stroke="#ff88ff" stroke-width="1.0" stroke-linecap="butt"/>
<rect x="299.74" y="231.40" width="4.20" height="5.32" fill="#ff88ff"/>
<line x1="308.42" y1="242.58" x2="308.42" y2="252.56" stroke="#cc00ee" stroke-width="1.2" stroke-linecap="butt"/>
<line x1="307.22" y1="252.56" x2="309.62" y2="252.56" stroke="#cc00ee" stroke-width="1.0" stroke-linecap="butt"/>
<rect x="306.32" y="231.40" width="4.20" height="11.18" fill="#cc00ee"/>
<line x1="315.00" y1="239.32" x2="315.00" y2="248.54" stroke="#ff99cc" stroke-width="1.2" stroke-linecap="butt"/>
<line x1="313.80" y1="248.54" x2="316.20" y2="248.54" stroke="#ff99cc" stroke-width="1.0" stroke-linecap="butt"/>
<rect x="312.90" y="231.40" width="4.20" height="7.92" fill="#ff99cc"/>
<line x1="321.58" y1="238.02" x2="321.58" y2="248.00" stroke="#ff0077" stroke-width="1.2" stroke-linecap="butt"/>
<line x1="320.38" y1="248.00" x2="322.78" y2="248.00" stroke="#ff0077" stroke-width="1.0" stroke-linecap="butt"/>
<rect x="319.48" y="231.40" width="4.20" height="6.62" fill="#ff0077"/>
<line x1="332.60" y1="256.90" x2="332.60" y2="264.17" stroke="#ff9a9a" stroke-width="1.2" stroke-linecap="butt"/>
<line x1="331.40" y1="264.17" x2="333.80" y2="264.17" stroke="#ff9a9a" stroke-width="1.0" stroke-linecap="butt"/>
<rect x="330.50" y="231.40" width="4.20" height="25.50" fill="#ff9a9a"/>
<rect x="337.07" y="231.40" width="4.20" height="37.97" fill="#ff3300"/>
<line x1="345.74" y1="243.77" x2="345.74" y2="277.84" stroke="#ffbb77" stroke-width="1.2" stroke-linecap="butt"/>
<line x1="344.54" y1="277.84" x2="346.94" y2="277.84" stroke="#ffbb77" stroke-width="1.0" stroke-linecap="butt"/>
<rect x="343.64" y="231.40" width="4.20" height="12.37" fill="#ffbb77"/>
<line x1="352.31" y1="263.84" x2="352.31" y2="270.79" stroke="#ff6600" stroke-width="1.2" stroke-linecap="butt"/>
<line x1="351.11" y1="270.79" x2="353.51" y2="270.79" stroke="#ff6600" stroke-width="1.0" stroke-linecap="butt"/>
<rect x="350.21" y="231.40" width="4.20" height="32.44" fill="#ff6600"/>
<line x1="358.88" y1="252.02" x2="358.88" y2="269.38" stroke="#66f59a" stroke-width="1.2" stroke-linecap="butt"/>
<line x1="357.68" y1="269.38" x2="360.08" y2="269.38" stroke="#66f59a" stroke-width="1.0" stroke-linecap="butt"/>
<rect x="356.78" y="231.40" width="4.20" height="20.62" fill="#66f59a"/>
<line x1="365.45" y1="247.46" x2="365.45" y2="261.35" stroke="#00bb00" stroke-width="1.2" stroke-linecap="butt"/>
<line x1="364.25" y1="261.35" x2="366.65" y2="261.35" stroke="#00bb00" stroke-width="1.0" stroke-linecap="butt"/>
<rect x="363.35" y="231.40" width="4.20" height="16.06" fill="#00bb00"/>
<line x1="372.02" y1="255.38" x2="372.02" y2="269.38" stroke="#77b8ff" stroke-width="1.2" stroke-linecap="butt"/>
<line x1="370.82" y1="269.38" x2="373.22" y2="269.38" stroke="#77b8ff" stroke-width="1.0" stroke-linecap="butt"/>
<rect x="369.92" y="231.40" width="4.20" height="23.98" fill="#77b8ff"/>
<line x1="378.59" y1="253.86" x2="378.59" y2="263.30" stroke="#0000ff" stroke-width="1.2" stroke-linecap="butt"/>
<line x1="377.39" y1="263.30" x2="379.79" y2="263.30" stroke="#0000ff" stroke-width="1.0" stroke-linecap="butt"/>
<rect x="376.49" y="231.40" width="4.20" height="22.46" fill="#0000ff"/>
<line x1="385.16" y1="260.59" x2="385.16" y2="278.27" stroke="#ff88ff" stroke-width="1.2" stroke-linecap="butt"/>
<line x1="383.96" y1="278.27" x2="386.36" y2="278.27" stroke="#ff88ff" stroke-width="1.0" stroke-linecap="butt"/>
<rect x="383.06" y="231.40" width="4.20" height="29.19" fill="#ff88ff"/>
<line x1="391.73" y1="256.36" x2="391.73" y2="266.23" stroke="#cc00ee" stroke-width="1.2" stroke-linecap="butt"/>
<line x1="390.53" y1="266.23" x2="392.93" y2="266.23" stroke="#cc00ee" stroke-width="1.0" stroke-linecap="butt"/>
<rect x="389.63" y="231.40" width="4.20" height="24.96" fill="#cc00ee"/>
<line x1="398.30" y1="249.74" x2="398.30" y2="266.23" stroke="#ff99cc" stroke-width="1.2" stroke-linecap="butt"/>
<line x1="397.10" y1="266.23" x2="399.50" y2="266.23" stroke="#ff99cc" stroke-width="1.0" stroke-linecap="butt"/>
<rect x="396.20" y="231.40" width="4.20" height="18.34" fill="#ff99cc"/>
<line x1="404.87" y1="255.70" x2="404.87" y2="274.15" stroke="#ff0077" stroke-width="1.2" stroke-linecap="butt"/>
<line x1="403.67" y1="274.15" x2="406.07" y2="274.15" stroke="#ff0077" stroke-width="1.0" stroke-linecap="butt"/>
<rect x="402.77" y="231.40" width="4.20" height="24.30" fill="#ff0077"/>
<line x1="245.10" y1="231.40" x2="409.60" y2="231.40" stroke="#1a1a1a" stroke-width="1.0" stroke-linecap="butt"/>
<line x1="327.60" y1="182.50" x2="327.60" y2="296.50" stroke="#111" stroke-width="1.35" stroke-dasharray="3.6,3.1" stroke-linecap="butt"/>
<line x1="245.10" y1="187.50" x2="245.10" y2="297.00" stroke="#1a1a1a" stroke-width="1.0" stroke-linecap="butt"/>
<line x1="244.60" y1="296.50" x2="409.60" y2="296.50" stroke="#1a1a1a" stroke-width="1.0" stroke-linecap="butt"/>
<line x1="242.30" y1="188.00" x2="245.10" y2="188.00" stroke="#1a1a1a" stroke-width="1.0" stroke-linecap="butt"/>
<text class="b" x="239.60" y="191.06" font-size="7.4" font-weight="bold" text-anchor="end" fill="#111">4</text>
<line x1="242.30" y1="209.70" x2="245.10" y2="209.70" stroke="#1a1a1a" stroke-width="1.0" stroke-linecap="butt"/>
<text class="b" x="239.60" y="212.76" font-size="7.4" font-weight="bold" text-anchor="end" fill="#111">2</text>
<line x1="242.30" y1="231.40" x2="245.10" y2="231.40" stroke="#1a1a1a" stroke-width="1.0" stroke-linecap="butt"/>
<text class="b" x="239.60" y="234.46" font-size="7.4" font-weight="bold" text-anchor="end" fill="#111">0</text>
<line x1="242.30" y1="253.10" x2="245.10" y2="253.10" stroke="#1a1a1a" stroke-width="1.0" stroke-linecap="butt"/>
<text class="b" x="239.60" y="256.16" font-size="7.4" font-weight="bold" text-anchor="end" fill="#111">-2</text>
<line x1="242.30" y1="274.80" x2="245.10" y2="274.80" stroke="#1a1a1a" stroke-width="1.0" stroke-linecap="butt"/>
<text class="b" x="239.60" y="277.86" font-size="7.4" font-weight="bold" text-anchor="end" fill="#111">-4</text>
<line x1="242.30" y1="296.50" x2="245.10" y2="296.50" stroke="#1a1a1a" stroke-width="1.0" stroke-linecap="butt"/>
<text class="b" x="239.60" y="299.56" font-size="7.4" font-weight="bold" text-anchor="end" fill="#111">-6</text>
<line x1="285.40" y1="296.50" x2="285.40" y2="299.30" stroke="#1a1a1a" stroke-width="1.0" stroke-linecap="butt"/>
<line x1="368.80" y1="296.50" x2="368.80" y2="299.30" stroke="#1a1a1a" stroke-width="1.0" stroke-linecap="butt"/>
<text class="b" x="285.40" y="309.60" font-size="8.2" font-weight="bold" text-anchor="middle" fill="#111">let-7i-5p</text>
<text class="b" x="368.30" y="309.60" font-size="8.2" font-weight="bold" text-anchor="middle" fill="#111">miR-451a</text>
<text class="b" x="327.00" y="321.90" font-size="8.1" font-weight="bold" text-anchor="middle" fill="#111">MicroRNA</text>
<text x="271.30" y="28.90" font-size="6.6" font-weight="normal" text-anchor="middle" fill="#333">0.04</text>
<line x1="267.80" y1="29.50" x2="267.80" y2="35.80" stroke="#222" stroke-width="1.4" stroke-linecap="butt"/>
<line x1="275.20" y1="29.50" x2="275.20" y2="35.80" stroke="#222" stroke-width="1.4" stroke-linecap="butt"/>
<line x1="267.80" y1="32.50" x2="275.20" y2="32.50" stroke="#222" stroke-width="1.3" stroke-linecap="butt"/>
<text x="361.40" y="50.50" font-size="6.6" font-weight="normal" text-anchor="middle" fill="#333">0.02</text>
<line x1="355.00" y1="51.00" x2="355.00" y2="57.60" stroke="#222" stroke-width="1.4" stroke-linecap="butt"/>
<line x1="368.10" y1="51.00" x2="368.10" y2="57.60" stroke="#222" stroke-width="1.4" stroke-linecap="butt"/>
<line x1="355.00" y1="54.20" x2="368.10" y2="54.20" stroke="#222" stroke-width="1.3" stroke-linecap="butt"/>
<text x="359.50" y="110.80" font-size="6.6" font-weight="normal" text-anchor="middle" fill="#333">0.03</text>
<line x1="356.80" y1="111.20" x2="356.80" y2="117.80" stroke="#222" stroke-width="1.4" stroke-linecap="butt"/>
<line x1="362.80" y1="111.20" x2="362.80" y2="117.80" stroke="#222" stroke-width="1.4" stroke-linecap="butt"/>
<line x1="356.80" y1="114.50" x2="362.80" y2="114.50" stroke="#222" stroke-width="1.3" stroke-linecap="butt"/>
<rect x="411.70" y="15.20" width="8.70" height="4.80" fill="#ff9999"/>
<text x="425.20" y="20.30" font-size="7.35" font-weight="normal" text-anchor="start" fill="#222">HbAA-</text>
<rect x="411.70" y="26.88" width="8.70" height="4.80" fill="#ffbb77"/>
<text x="425.20" y="31.98" font-size="7.35" font-weight="normal" text-anchor="start" fill="#222">HbAS-</text>
<rect x="411.70" y="38.56" width="8.70" height="4.80" fill="#55ee88"/>
<text x="425.20" y="43.66" font-size="7.35" font-weight="normal" text-anchor="start" fill="#222">HbAC-</text>
<rect x="411.70" y="50.24" width="8.70" height="4.80" fill="#66b0ff"/>
<text x="425.20" y="55.34" font-size="7.35" font-weight="normal" text-anchor="start" fill="#222">HbSS-</text>
<rect x="411.70" y="61.92" width="8.70" height="4.80" fill="#ff88ff"/>
<text x="425.20" y="67.02" font-size="7.35" font-weight="normal" text-anchor="start" fill="#222">HbSC-</text>
<rect x="411.70" y="73.60" width="8.70" height="4.80" fill="#ff88c0"/>
<text x="425.20" y="78.70" font-size="7.35" font-weight="normal" text-anchor="start" fill="#222">HbCC-</text>
<rect x="411.70" y="85.28" width="8.70" height="4.80" fill="#ff0000"/>
<text x="425.20" y="90.38" font-size="7.35" font-weight="normal" text-anchor="start" fill="#222">HbAA+</text>
<rect x="411.70" y="96.96" width="8.70" height="4.80" fill="#ff8000"/>
<text x="425.20" y="102.06" font-size="7.35" font-weight="normal" text-anchor="start" fill="#222">HbAS+</text>
<rect x="411.70" y="108.64" width="8.70" height="4.80" fill="#11cc11"/>
<text x="425.20" y="113.74" font-size="7.35" font-weight="normal" text-anchor="start" fill="#222">HbAC+</text>
<rect x="411.70" y="120.32" width="8.70" height="4.80" fill="#0000ff"/>
<text x="425.20" y="125.42" font-size="7.35" font-weight="normal" text-anchor="start" fill="#222">HbSS+</text>
<rect x="411.70" y="132.00" width="8.70" height="4.80" fill="#cc00ff"/>
<text x="425.20" y="137.10" font-size="7.35" font-weight="normal" text-anchor="start" fill="#222">HbSC+</text>
<rect x="411.70" y="143.68" width="8.70" height="4.80" fill="#ff0077"/>
<text x="425.20" y="148.78" font-size="7.35" font-weight="normal" text-anchor="start" fill="#222">HbCC+</text>
<text class="b" x="82.00" y="355.80" font-size="6.4" font-weight="bold" text-anchor="middle" fill="#111">Day 3 Malaria Negative</text>
<line x1="32.30" y1="363.60" x2="32.30" y2="429.40" stroke="#1a1a1a" stroke-width="0.9" stroke-linecap="butt"/>
<line x1="30.10" y1="364.00" x2="32.30" y2="364.00" stroke="#1a1a1a" stroke-width="0.9" stroke-linecap="butt"/>
<text class="b" x="29.00" y="365.80" font-size="5.0" font-weight="bold" text-anchor="end" fill="#222">2</text>
<line x1="30.10" y1="380.30" x2="32.30" y2="380.30" stroke="#1a1a1a" stroke-width="0.9" stroke-linecap="butt"/>
<text class="b" x="29.00" y="382.10" font-size="5.0" font-weight="bold" text-anchor="end" fill="#222">1</text>
<line x1="30.10" y1="396.40" x2="32.30" y2="396.40" stroke="#1a1a1a" stroke-width="0.9" stroke-linecap="butt"/>
<text class="b" x="29.00" y="398.20" font-size="5.0" font-weight="bold" text-anchor="end" fill="#222">0</text>
<line x1="30.10" y1="412.70" x2="32.30" y2="412.70" stroke="#1a1a1a" stroke-width="0.9" stroke-linecap="butt"/>
<text class="b" x="29.00" y="414.50" font-size="5.0" font-weight="bold" text-anchor="end" fill="#222">-1</text>
<line x1="30.10" y1="429.00" x2="32.30" y2="429.00" stroke="#1a1a1a" stroke-width="0.9" stroke-linecap="butt"/>
<text class="b" x="29.00" y="430.80" font-size="5.0" font-weight="bold" text-anchor="end" fill="#222">-2</text>
<line x1="32.30" y1="396.40" x2="130.50" y2="396.40" stroke="#1a1a1a" stroke-width="0.9" stroke-linecap="butt"/>
<line x1="65.30" y1="396.40" x2="65.30" y2="398.40" stroke="#1a1a1a" stroke-width="0.9" stroke-linecap="butt"/>
<text class="b" x="65.30" y="404.80" font-size="5.0" font-weight="bold" text-anchor="middle" fill="#222">-3</text>
<line x1="98.00" y1="396.40" x2="98.00" y2="398.40" stroke="#1a1a1a" stroke-width="0.9" stroke-linecap="butt"/>
<text class="b" x="98.00" y="404.80" font-size="5.0" font-weight="bold" text-anchor="middle" fill="#222">-2</text>
<line x1="130.50" y1="396.40" x2="130.50" y2="398.40" stroke="#1a1a1a" stroke-width="0.9" stroke-linecap="butt"/>
<text class="b" x="130.50" y="404.80" font-size="5.0" font-weight="bold" text-anchor="middle" fill="#222">-1</text>
<text class="b" x="21.30" y="395.70" font-size="5.4" font-weight="bold" text-anchor="middle" fill="#111" transform="rotate(-90 21.30 395.70)">log (let-7i-5p)</text>
<text class="b" x="81.10" y="429.00" font-size="5.4" font-weight="bold" text-anchor="middle" fill="#111">log (miR-451a)</text>
<path d="M45.00,398.50 Q90.00,385.00 128.00,369.60" fill="none" stroke="#888" stroke-width="0.75" stroke-dasharray="0.9,1.2"/>
<path d="M45.00,413.00 Q85.00,392.00 128.00,384.80" fill="none" stroke="#888" stroke-width="0.75" stroke-dasharray="0.9,1.2"/>
<line x1="45.70" y1="405.60" x2="127.70" y2="377.60" stroke="#2a2a2a" stroke-width="1.0" stroke-linecap="butt"/>
<circle cx="45.40" cy="412.90" r="1.6" fill="#ffaa55"/>
<circle cx="64.90" cy="386.00" r="1.6" fill="#ff77bb"/>
<circle cx="60.20" cy="399.70" r="1.6" fill="#ff8a8a"/>
<circle cx="61.70" cy="401.30" r="1.6" fill="#ee66ee"/>
<circle cx="63.60" cy="402.60" r="1.6" fill="#55aaff"/>
<circle cx="62.40" cy="403.80" r="1.6" fill="#44ee77"/>
<circle cx="72.30" cy="404.90" r="1.6" fill="#44ee77"/>
<circle cx="77.50" cy="391.50" r="1.6" fill="#ff8a8a"/>
<circle cx="80.80" cy="373.50" r="1.6" fill="#ffaa55"/>
<circle cx="90.10" cy="386.00" r="1.6" fill="#ee66ee"/>
<circle cx="87.70" cy="388.90" r="1.6" fill="#ffaa55"/>
<circle cx="92.30" cy="388.50" r="1.6" fill="#ff77bb"/>
<circle cx="90.90" cy="390.00" r="1.6" fill="#44ee77"/>
<circle cx="86.90" cy="393.60" r="1.6" fill="#ff77bb"/>
<circle cx="85.00" cy="395.30" r="1.6" fill="#ff77bb"/>
<circle cx="96.40" cy="390.00" r="1.6" fill="#ff8a8a"/>
<circle cx="99.00" cy="390.40" r="1.6" fill="#55aaff"/>
<circle cx="104.40" cy="382.70" r="1.6" fill="#55aaff"/>
<circle cx="108.30" cy="374.40" r="1.6" fill="#ff77bb"/>
<circle cx="115.00" cy="389.50" r="1.6" fill="#ff8a8a"/>
<circle cx="121.40" cy="389.60" r="1.6" fill="#ee66ee"/>
<circle cx="108.80" cy="396.20" r="1.6" fill="#ffaa55"/>
<circle cx="127.70" cy="367.80" r="1.6" fill="#55aaff"/>
<text class="b" x="208.80" y="355.80" font-size="6.4" font-weight="bold" text-anchor="middle" fill="#111">Day 8 Malaria Negative</text>
<line x1="159.80" y1="363.60" x2="159.80" y2="429.40" stroke="#1a1a1a" stroke-width="0.9" stroke-linecap="butt"/>
<line x1="157.60" y1="364.00" x2="159.80" y2="364.00" stroke="#1a1a1a" stroke-width="0.9" stroke-linecap="butt"/>
<text class="b" x="156.50" y="365.80" font-size="5.0" font-weight="bold" text-anchor="end" fill="#222">2</text>
<line x1="157.60" y1="380.30" x2="159.80" y2="380.30" stroke="#1a1a1a" stroke-width="0.9" stroke-linecap="butt"/>
<text class="b" x="156.50" y="382.10" font-size="5.0" font-weight="bold" text-anchor="end" fill="#222">1</text>
<line x1="157.60" y1="396.50" x2="159.80" y2="396.50" stroke="#1a1a1a" stroke-width="0.9" stroke-linecap="butt"/>
<text class="b" x="156.50" y="398.30" font-size="5.0" font-weight="bold" text-anchor="end" fill="#222">0</text>
<line x1="157.60" y1="412.70" x2="159.80" y2="412.70" stroke="#1a1a1a" stroke-width="0.9" stroke-linecap="butt"/>
<text class="b" x="156.50" y="414.50" font-size="5.0" font-weight="bold" text-anchor="end" fill="#222">-1</text>
<line x1="157.60" y1="429.00" x2="159.80" y2="429.00" stroke="#1a1a1a" stroke-width="0.9" stroke-linecap="butt"/>
<text class="b" x="156.50" y="430.80" font-size="5.0" font-weight="bold" text-anchor="end" fill="#222">-2</text>
<line x1="159.80" y1="396.50" x2="257.70" y2="396.50" stroke="#1a1a1a" stroke-width="0.9" stroke-linecap="butt"/>
<line x1="192.40" y1="396.50" x2="192.40" y2="398.50" stroke="#1a1a1a" stroke-width="0.9" stroke-linecap="butt"/>
<line x1="225.20" y1="396.50" x2="225.20" y2="398.50" stroke="#1a1a1a" stroke-width="0.9" stroke-linecap="butt"/>
<line x1="257.70" y1="396.50" x2="257.70" y2="398.50" stroke="#1a1a1a" stroke-width="0.9" stroke-linecap="butt"/>
<text class="b" x="148.50" y="395.90" font-size="5.4" font-weight="bold" text-anchor="middle" fill="#111" transform="rotate(-90 148.50 395.90)">log (let-7i-5p)</text>
<text class="b" x="209.20" y="428.30" font-size="5.4" font-weight="bold" text-anchor="middle" fill="#111">log (miR-451a)</text>
<path d="M168.00,403.00 Q200.00,392.00 243.60,370.30" fill="none" stroke="#888" stroke-width="0.75" stroke-dasharray="0.9,1.2"/>
<path d="M168.00,416.90 Q205.00,398.00 243.60,384.10" fill="none" stroke="#888" stroke-width="0.75" stroke-dasharray="0.9,1.2"/>
<line x1="168.40" y1="409.90" x2="243.60" y2="377.60" stroke="#2a2a2a" stroke-width="1.0" stroke-linecap="butt"/>
<circle cx="168.10" cy="403.00" r="1.6" fill="#55aaff"/>
<circle cx="173.90" cy="394.30" r="1.6" fill="#55aaff"/>
<circle cx="183.40" cy="396.20" r="1.6" fill="#ffaa55"/>
<circle cx="188.00" cy="400.10" r="1.6" fill="#55aaff"/>
<circle cx="186.30" cy="409.90" r="1.6" fill="#55aaff"/>
<circle cx="186.30" cy="414.40" r="1.6" fill="#ffaa55"/>
<circle cx="190.60" cy="404.50" r="1.6" fill="#44ee77"/>
<circle cx="194.10" cy="402.70" r="1.6" fill="#ff77bb"/>
<circle cx="194.10" cy="399.40" r="1.6" fill="#ff8a8a"/>
<circle cx="195.00" cy="401.30" r="1.6" fill="#ffaa55"/>
<circle cx="198.20" cy="398.70" r="1.6" fill="#ff8a8a"/>
<circle cx="200.80" cy="400.80" r="1.6" fill="#ee66ee"/>
<circle cx="200.80" cy="393.10" r="1.6" fill="#ff8a8a"/>
<circle cx="202.90" cy="384.80" r="1.6" fill="#ffaa55"/>
<circle cx="203.30" cy="388.80" r="1.6" fill="#ffaa55"/>
<circle cx="224.20" cy="388.90" r="1.6" fill="#ee66ee"/>
<circle cx="215.50" cy="396.80" r="1.6" fill="#ff77bb"/>
<circle cx="219.10" cy="408.20" r="1.6" fill="#44ee77"/>
<circle cx="233.40" cy="384.50" r="1.6" fill="#44ee77"/>
<circle cx="240.60" cy="369.30" r="1.6" fill="#ee66ee"/>
<circle cx="243.80" cy="371.70" r="1.6" fill="#ff8a8a"/>
<circle cx="238.50" cy="375.40" r="1.6" fill="#ff77bb"/>
<circle cx="243.60" cy="376.10" r="1.6" fill="#ee66ee"/>
<text class="b" x="330.20" y="355.60" font-size="6.4" font-weight="bold" text-anchor="middle" fill="#111">Day 9 Malaria Negative</text>
<line x1="281.00" y1="363.60" x2="281.00" y2="429.40" stroke="#1a1a1a" stroke-width="0.9" stroke-linecap="butt"/>
<line x1="278.80" y1="364.00" x2="281.00" y2="364.00" stroke="#1a1a1a" stroke-width="0.9" stroke-linecap="butt"/>
<text class="b" x="277.70" y="365.80" font-size="5.0" font-weight="bold" text-anchor="end" fill="#222">2</text>
<line x1="278.80" y1="380.20" x2="281.00" y2="380.20" stroke="#1a1a1a" stroke-width="0.9" stroke-linecap="butt"/>
<text class="b" x="277.70" y="382.00" font-size="5.0" font-weight="bold" text-anchor="end" fill="#222">1</text>
<line x1="278.80" y1="396.40" x2="281.00" y2="396.40" stroke="#1a1a1a" stroke-width="0.9" stroke-linecap="butt"/>
<text class="b" x="277.70" y="398.20" font-size="5.0" font-weight="bold" text-anchor="end" fill="#222">0</text>
<line x1="278.80" y1="412.70" x2="281.00" y2="412.70" stroke="#1a1a1a" stroke-width="0.9" stroke-linecap="butt"/>
<text class="b" x="277.70" y="414.50" font-size="5.0" font-weight="bold" text-anchor="end" fill="#222">-1</text>
<line x1="278.80" y1="429.00" x2="281.00" y2="429.00" stroke="#1a1a1a" stroke-width="0.9" stroke-linecap="butt"/>
<text class="b" x="277.70" y="430.80" font-size="5.0" font-weight="bold" text-anchor="end" fill="#222">-2</text>
<line x1="281.00" y1="396.40" x2="379.30" y2="396.40" stroke="#1a1a1a" stroke-width="0.9" stroke-linecap="butt"/>
<line x1="305.60" y1="396.40" x2="305.60" y2="398.40" stroke="#1a1a1a" stroke-width="0.9" stroke-linecap="butt"/>
<text class="b" x="305.60" y="404.80" font-size="5.0" font-weight="bold" text-anchor="middle" fill="#222">-3</text>
<line x1="330.00" y1="396.40" x2="330.00" y2="398.40" stroke="#1a1a1a" stroke-width="0.9" stroke-linecap="butt"/>
<text class="b" x="330.00" y="404.80" font-size="5.0" font-weight="bold" text-anchor="middle" fill="#222">-2</text>
<line x1="354.60" y1="396.40" x2="354.60" y2="398.40" stroke="#1a1a1a" stroke-width="0.9" stroke-linecap="butt"/>
<text class="b" x="354.60" y="404.80" font-size="5.0" font-weight="bold" text-anchor="middle" fill="#222">-1</text>
<line x1="379.30" y1="396.40" x2="379.30" y2="398.40" stroke="#1a1a1a" stroke-width="0.9" stroke-linecap="butt"/>
<text class="b" x="379.30" y="404.80" font-size="5.0" font-weight="bold" text-anchor="middle" fill="#222">0</text>
<text class="b" x="270.30" y="395.90" font-size="5.4" font-weight="bold" text-anchor="middle" fill="#111" transform="rotate(-90 270.30 395.90)">log (let-7i-5p)</text>
<text class="b" x="329.80" y="429.40" font-size="5.4" font-weight="bold" text-anchor="middle" fill="#111">log (miR-451a)</text>
<path d="M286.00,393.60 Q330.00,390.00 375.70,370.30" fill="none" stroke="#888" stroke-width="0.75" stroke-dasharray="0.9,1.2"/>
<path d="M286.00,420.20 Q330.00,398.00 375.70,392.80" fill="none" stroke="#888" stroke-width="0.75" stroke-dasharray="0.9,1.2"/>
<line x1="287.20" y1="406.70" x2="375.70" y2="381.60" stroke="#2a2a2a" stroke-width="1.0" stroke-linecap="butt"/>
<circle cx="287.00" cy="411.10" r="1.6" fill="#ffaa55"/>
<circle cx="293.30" cy="409.60" r="1.6" fill="#ff8a8a"/>
<circle cx="294.50" cy="414.40" r="1.6" fill="#44ee77"/>
<circle cx="299.90" cy="404.20" r="1.6" fill="#ee66ee"/>
<circle cx="310.00" cy="403.30" r="1.6" fill="#55aaff"/>
<circle cx="314.00" cy="406.70" r="1.6" fill="#ee66ee"/>
<circle cx="329.30" cy="379.00" r="1.6" fill="#ee66ee"/>
<circle cx="329.30" cy="385.30" r="1.6" fill="#ee66ee"/>
<circle cx="341.80" cy="370.70" r="1.6" fill="#ee66ee"/>
<circle cx="337.50" cy="375.10" r="1.6" fill="#ff8a8a"/>
<circle cx="345.50" cy="385.30" r="1.6" fill="#ff77bb"/>
<circle cx="349.10" cy="378.00" r="1.6" fill="#55aaff"/>
<circle cx="349.80" cy="383.00" r="1.6" fill="#55aaff"/>
<circle cx="357.50" cy="372.20" r="1.6" fill="#ff8a8a"/>
<circle cx="367.30" cy="370.70" r="1.6" fill="#55aaff"/>
<circle cx="372.10" cy="379.00" r="1.6" fill="#ff77bb"/>
<circle cx="360.00" cy="390.70" r="1.6" fill="#ffaa55"/>
<circle cx="341.10" cy="399.40" r="1.6" fill="#44ee77"/>
<circle cx="337.80" cy="402.70" r="1.6" fill="#ffaa55"/>
<circle cx="367.30" cy="404.80" r="1.6" fill="#ff77bb"/>
<circle cx="376.00" cy="416.10" r="1.6" fill="#ff8a8a"/>
<text class="b" x="447.70" y="355.30" font-size="6.25" font-weight="bold" text-anchor="middle" fill="#111">Day 16 Malaria Negative</text>
<line x1="472.20" y1="363.10" x2="472.20" y2="427.90" stroke="#666" stroke-width="1.2" stroke-linecap="butt"/>
<line x1="470.00" y1="363.50" x2="472.20" y2="363.50" stroke="#666" stroke-width="1.2" stroke-linecap="butt"/>
<text class="b" x="468.90" y="365.30" font-size="5.0" font-weight="bold" text-anchor="end" fill="#222">3</text>
<line x1="470.00" y1="376.30" x2="472.20" y2="376.30" stroke="#666" stroke-width="1.2" stroke-linecap="butt"/>
<text class="b" x="468.90" y="378.10" font-size="5.0" font-weight="bold" text-anchor="end" fill="#222">2</text>
<line x1="470.00" y1="388.80" x2="472.20" y2="388.80" stroke="#666" stroke-width="1.2" stroke-linecap="butt"/>
<text class="b" x="468.90" y="390.60" font-size="5.0" font-weight="bold" text-anchor="end" fill="#222">1</text>
<line x1="470.00" y1="401.70" x2="472.20" y2="401.70" stroke="#666" stroke-width="1.2" stroke-linecap="butt"/>
<line x1="470.00" y1="414.40" x2="472.20" y2="414.40" stroke="#666" stroke-width="1.2" stroke-linecap="butt"/>
<text class="b" x="468.90" y="416.20" font-size="5.0" font-weight="bold" text-anchor="end" fill="#222">-1</text>
<line x1="470.00" y1="427.50" x2="472.20" y2="427.50" stroke="#666" stroke-width="1.2" stroke-linecap="butt"/>
<text class="b" x="468.90" y="429.30" font-size="5.0" font-weight="bold" text-anchor="end" fill="#222">-2</text>
<line x1="399.60" y1="401.70" x2="496.30" y2="401.70" stroke="#555" stroke-width="1.2" stroke-linecap="butt"/>
<line x1="399.60" y1="401.70" x2="399.60" y2="403.70" stroke="#555" stroke-width="0.9" stroke-linecap="butt"/>
<text class="b" x="399.60" y="410.10" font-size="5.0" font-weight="bold" text-anchor="middle" fill="#222">-6</text>
<line x1="424.00" y1="401.70" x2="424.00" y2="403.70" stroke="#555" stroke-width="0.9" stroke-linecap="butt"/>
<text class="b" x="424.00" y="410.10" font-size="5.0" font-weight="bold" text-anchor="middle" fill="#222">-4</text>
<line x1="447.80" y1="401.70" x2="447.80" y2="403.70" stroke="#555" stroke-width="0.9" stroke-linecap="butt"/>
<text class="b" x="447.80" y="410.10" font-size="5.0" font-weight="bold" text-anchor="middle" fill="#222">-2</text>
<line x1="472.20" y1="401.70" x2="472.20" y2="403.70" stroke="#555" stroke-width="0.9" stroke-linecap="butt"/>
<line x1="496.30" y1="401.70" x2="496.30" y2="403.70" stroke="#555" stroke-width="0.9" stroke-linecap="butt"/>
<text class="b" x="496.30" y="410.10" font-size="5.0" font-weight="bold" text-anchor="middle" fill="#222">2</text>
<text class="b" x="390.90" y="391.10" font-size="5.4" font-weight="bold" text-anchor="middle" fill="#111" transform="rotate(-90 390.90 391.10)">log (let-7i-5p)</text>
<text class="b" x="438.00" y="433.50" font-size="5.4" font-weight="bold" text-anchor="middle" fill="#111">log (miR-451a)</text>
<path d="M423.40,404.70 Q450.00,397.00 484.50,373.60" fill="none" stroke="#888" stroke-width="0.75" stroke-dasharray="0.9,1.2"/>
<path d="M423.40,415.00 Q455.00,403.00 484.50,397.50" fill="none" stroke="#888" stroke-width="0.75" stroke-dasharray="0.9,1.2"/>
<line x1="423.40" y1="409.30" x2="484.50" y2="385.60" stroke="#2a2a2a" stroke-width="1.0" stroke-linecap="butt"/>
<circle cx="425.60" cy="411.30" r="1.6" fill="#55aaff"/>
<circle cx="425.60" cy="418.20" r="1.6" fill="#ee66ee"/>
<circle cx="431.90" cy="406.10" r="1.6" fill="#ffaa55"/>
<circle cx="435.40" cy="405.30" r="1.6" fill="#44ee77"/>
<circle cx="438.10" cy="399.10" r="1.6" fill="#ff8a8a"/>
<circle cx="440.10" cy="398.10" r="1.6" fill="#55aaff"/>
<circle cx="438.50" cy="418.60" r="1.6" fill="#ff77bb"/>
<circle cx="448.40" cy="399.50" r="1.6" fill="#ff8a8a"/>
<circle cx="452.00" cy="398.50" r="1.6" fill="#ee66ee"/>
<circle cx="454.40" cy="387.10" r="1.6" fill="#55aaff"/>
<circle cx="459.60" cy="387.10" r="1.6" fill="#55aaff"/>
<circle cx="461.70" cy="388.10" r="1.6" fill="#44ee77"/>
<circle cx="463.30" cy="404.70" r="1.6" fill="#ff77bb"/>
<circle cx="484.50" cy="394.30" r="1.6" fill="#ffaa55"/>
<text class="b" x="81.40" y="455.80" font-size="6.4" font-weight="bold" text-anchor="middle" fill="#111">Day 3 Malaria Postive</text>
<line x1="32.40" y1="463.90" x2="32.40" y2="529.90" stroke="#1a1a1a" stroke-width="0.9" stroke-linecap="butt"/>
<line x1="30.20" y1="464.30" x2="32.40" y2="464.30" stroke="#1a1a1a" stroke-width="0.9" stroke-linecap="butt"/>
<text class="b" x="29.10" y="466.10" font-size="5.0" font-weight="bold" text-anchor="end" fill="#222">2</text>
<line x1="30.20" y1="477.30" x2="32.40" y2="477.30" stroke="#1a1a1a" stroke-width="0.9" stroke-linecap="butt"/>
<text class="b" x="29.10" y="479.10" font-size="5.0" font-weight="bold" text-anchor="end" fill="#222">1</text>
<line x1="30.20" y1="490.20" x2="32.40" y2="490.20" stroke="#1a1a1a" stroke-width="0.9" stroke-linecap="butt"/>
<text class="b" x="29.10" y="492.00" font-size="5.0" font-weight="bold" text-anchor="end" fill="#222">0</text>
<line x1="30.20" y1="503.30" x2="32.40" y2="503.30" stroke="#1a1a1a" stroke-width="0.9" stroke-linecap="butt"/>
<text class="b" x="29.10" y="505.10" font-size="5.0" font-weight="bold" text-anchor="end" fill="#222">-1</text>
<line x1="30.20" y1="516.40" x2="32.40" y2="516.40" stroke="#1a1a1a" stroke-width="0.9" stroke-linecap="butt"/>
<text class="b" x="29.10" y="518.20" font-size="5.0" font-weight="bold" text-anchor="end" fill="#222">-2</text>
<line x1="30.20" y1="529.50" x2="32.40" y2="529.50" stroke="#1a1a1a" stroke-width="0.9" stroke-linecap="butt"/>
<text class="b" x="29.10" y="531.30" font-size="5.0" font-weight="bold" text-anchor="end" fill="#222">-3</text>
<line x1="32.40" y1="490.20" x2="130.00" y2="490.20" stroke="#1a1a1a" stroke-width="0.9" stroke-linecap="butt"/>
<line x1="52.30" y1="490.20" x2="52.30" y2="492.20" stroke="#1a1a1a" stroke-width="0.9" stroke-linecap="butt"/>
<text class="b" x="52.30" y="498.60" font-size="5.0" font-weight="bold" text-anchor="middle" fill="#222">-4</text>
<line x1="72.10" y1="490.20" x2="72.10" y2="492.20" stroke="#1a1a1a" stroke-width="0.9" stroke-linecap="butt"/>
<text class="b" x="72.10" y="498.60" font-size="5.0" font-weight="bold" text-anchor="middle" fill="#222">-3</text>
<line x1="91.60" y1="490.20" x2="91.60" y2="492.20" stroke="#1a1a1a" stroke-width="0.9" stroke-linecap="butt"/>
<text class="b" x="91.60" y="498.60" font-size="5.0" font-weight="bold" text-anchor="middle" fill="#222">-2</text>
<line x1="111.30" y1="490.20" x2="111.30" y2="492.20" stroke="#1a1a1a" stroke-width="0.9" stroke-linecap="butt"/>
<text class="b" x="111.30" y="498.60" font-size="5.0" font-weight="bold" text-anchor="middle" fill="#222">-1</text>
<line x1="130.00" y1="490.20" x2="130.00" y2="492.20" stroke="#1a1a1a" stroke-width="0.9" stroke-linecap="butt"/>
<text class="b" x="130.00" y="498.60" font-size="5.0" font-weight="bold" text-anchor="middle" fill="#222">0</text>
<text class="b" x="21.50" y="496.70" font-size="5.5" font-weight="bold" text-anchor="middle" fill="#111" transform="rotate(-90 21.50 496.70)">log (let-7i-5p)</text>
<text class="b" x="81.50" y="530.80" font-size="5.4" font-weight="bold" text-anchor="middle" fill="#111">log (miR-451a)</text>
<path d="M41.30,469.30 Q90.00,490.00 115.60,478.00" fill="none" stroke="#888" stroke-width="0.75" stroke-dasharray="0.9,1.2"/>
<path d="M41.30,497.90 Q90.00,484.00 114.60,503.00" fill="none" stroke="#888" stroke-width="0.75" stroke-dasharray="0.9,1.2"/>
<line x1="41.30" y1="483.40" x2="111.70" y2="489.90" stroke="#2a2a2a" stroke-width="1.0" stroke-linecap="butt"/>
<circle cx="44.20" cy="472.50" r="1.6" fill="#cc11ee"/>
<circle cx="53.40" cy="471.40" r="1.6" fill="#11cc11"/>
<circle cx="60.60" cy="472.00" r="1.6" fill="#cc11ee"/>
<circle cx="64.60" cy="477.60" r="1.6" fill="#ff1a1a"/>
<circle cx="71.90" cy="475.10" r="1.6" fill="#ff8000"/>
<circle cx="80.50" cy="471.30" r="1.6" fill="#ff1a88"/>
<circle cx="59.00" cy="485.10" r="1.6" fill="#ff1a88"/>
<circle cx="69.80" cy="487.20" r="1.6" fill="#ff1a1a"/>
<circle cx="72.20" cy="492.80" r="1.6" fill="#ff1a1a"/>
<circle cx="41.30" cy="501.30" r="1.6" fill="#ff8000"/>
<circle cx="67.10" cy="510.30" r="1.6" fill="#11cc11"/>
<circle cx="90.30" cy="482.40" r="1.6" fill="#cc11ee"/>
<circle cx="97.10" cy="476.80" r="1.6" fill="#ff8000"/>
<circle cx="104.40" cy="474.40" r="1.6" fill="#1a1aff"/>
<circle cx="106.60" cy="474.90" r="1.6" fill="#1a1aff"/>
<circle cx="115.60" cy="478.30" r="1.6" fill="#11cc11"/>
<circle cx="99.60" cy="491.10" r="1.6" fill="#ff1a1a"/>
<circle cx="84.50" cy="492.80" r="1.6" fill="#11cc11"/>
<circle cx="102.50" cy="496.50" r="1.6" fill="#ff1a88"/>
<circle cx="104.40" cy="502.00" r="1.6" fill="#1a1aff"/>
<circle cx="92.00" cy="516.10" r="1.6" fill="#11cc11"/>
<circle cx="93.50" cy="517.30" r="1.6" fill="#cc11ee"/>
<text class="b" x="208.80" y="455.80" font-size="6.4" font-weight="bold" text-anchor="middle" fill="#111">Day 8 Malaria Postive</text>
<line x1="160.20" y1="463.90" x2="160.20" y2="529.70" stroke="#1a1a1a" stroke-width="0.9" stroke-linecap="butt"/>
<line x1="158.00" y1="464.30" x2="160.20" y2="464.30" stroke="#1a1a1a" stroke-width="0.9" stroke-linecap="butt"/>
<text class="b" x="156.90" y="466.10" font-size="5.0" font-weight="bold" text-anchor="end" fill="#222">3</text>
<line x1="158.00" y1="475.20" x2="160.20" y2="475.20" stroke="#1a1a1a" stroke-width="0.9" stroke-linecap="butt"/>
<text class="b" x="156.90" y="477.00" font-size="5.0" font-weight="bold" text-anchor="end" fill="#222">2</text>
<line x1="158.00" y1="485.90" x2="160.20" y2="485.90" stroke="#1a1a1a" stroke-width="0.9" stroke-linecap="butt"/>
<text class="b" x="156.90" y="487.70" font-size="5.0" font-weight="bold" text-anchor="end" fill="#222">1</text>
<line x1="158.00" y1="496.80" x2="160.20" y2="496.80" stroke="#1a1a1a" stroke-width="0.9" stroke-linecap="butt"/>
<text class="b" x="156.90" y="498.60" font-size="5.0" font-weight="bold" text-anchor="end" fill="#222">0</text>
<line x1="158.00" y1="507.40" x2="160.20" y2="507.40" stroke="#1a1a1a" stroke-width="0.9" stroke-linecap="butt"/>
<text class="b" x="156.90" y="509.20" font-size="5.0" font-weight="bold" text-anchor="end" fill="#222">-1</text>
<line x1="158.00" y1="518.30" x2="160.20" y2="518.30" stroke="#1a1a1a" stroke-width="0.9" stroke-linecap="butt"/>
<text class="b" x="156.90" y="520.10" font-size="5.0" font-weight="bold" text-anchor="end" fill="#222">-2</text>
<line x1="158.00" y1="529.30" x2="160.20" y2="529.30" stroke="#1a1a1a" stroke-width="0.9" stroke-linecap="butt"/>
<text class="b" x="156.90" y="531.10" font-size="5.0" font-weight="bold" text-anchor="end" fill="#222">-3</text>
<line x1="160.20" y1="496.80" x2="257.50" y2="496.80" stroke="#1a1a1a" stroke-width="0.9" stroke-linecap="butt"/>
<line x1="179.50" y1="496.80" x2="179.50" y2="498.80" stroke="#1a1a1a" stroke-width="0.9" stroke-linecap="butt"/>
<text class="b" x="179.50" y="505.20" font-size="5.0" font-weight="bold" text-anchor="middle" fill="#222">-4</text>
<line x1="199.00" y1="496.80" x2="199.00" y2="498.80" stroke="#1a1a1a" stroke-width="0.9" stroke-linecap="butt"/>
<text class="b" x="199.00" y="505.20" font-size="5.0" font-weight="bold" text-anchor="middle" fill="#222">-3</text>
<line x1="218.60" y1="496.80" x2="218.60" y2="498.80" stroke="#1a1a1a" stroke-width="0.9" stroke-linecap="butt"/>
<text class="b" x="218.60" y="505.20" font-size="5.0" font-weight="bold" text-anchor="middle" fill="#222">-2</text>
<line x1="238.20" y1="496.80" x2="238.20" y2="498.80" stroke="#1a1a1a" stroke-width="0.9" stroke-linecap="butt"/>
<text class="b" x="238.20" y="505.20" font-size="5.0" font-weight="bold" text-anchor="middle" fill="#222">-1</text>
<line x1="257.50" y1="496.80" x2="257.50" y2="498.80" stroke="#1a1a1a" stroke-width="0.9" stroke-linecap="butt"/>
<text class="b" x="257.50" y="505.20" font-size="5.0" font-weight="bold" text-anchor="middle" fill="#222">0</text>
<text class="b" x="148.80" y="497.00" font-size="5.5" font-weight="bold" text-anchor="middle" fill="#111" transform="rotate(-90 148.80 497.00)">log (let-7i-5p)</text>
<text class="b" x="209.10" y="533.80" font-size="5.4" font-weight="bold" text-anchor="middle" fill="#111">log (miR-451a)</text>
<path d="M171.70,482.70 Q210.00,494.00 248.10,486.00" fill="none" stroke="#888" stroke-width="0.75" stroke-dasharray="0.9,1.2"/>
<path d="M171.70,505.70 Q210.00,498.00 248.10,508.20" fill="none" stroke="#888" stroke-width="0.75" stroke-dasharray="0.9,1.2"/>
<line x1="171.70" y1="494.00" x2="248.10" y2="497.20" stroke="#2a2a2a" stroke-width="1.0" stroke-linecap="butt"/>
<circle cx="175.70" cy="474.20" r="1.6" fill="#11cc11"/>
<circle cx="171.30" cy="497.70" r="1.6" fill="#ff8000"/>
<circle cx="184.90" cy="490.00" r="1.6" fill="#ff1a1a"/>
<circle cx="183.10" cy="500.10" r="1.6" fill="#cc11ee"/>
<circle cx="196.80" cy="481.60" r="1.6" fill="#cc11ee"/>
<circle cx="194.80" cy="486.00" r="1.6" fill="#1a1aff"/>
<circle cx="197.70" cy="484.90" r="1.6" fill="#ff8000"/>
<circle cx="198.70" cy="502.30" r="1.6" fill="#ff1a88"/>
<circle cx="202.30" cy="510.30" r="1.6" fill="#ff1a1a"/>
<circle cx="196.50" cy="519.10" r="1.6" fill="#11cc11"/>
<circle cx="208.40" cy="502.30" r="1.6" fill="#cc11ee"/>
<circle cx="211.10" cy="507.40" r="1.6" fill="#ff1a88"/>
<circle cx="212.10" cy="477.10" r="1.6" fill="#1a1aff"/>
<circle cx="216.00" cy="486.00" r="1.6" fill="#ff1a1a"/>
<circle cx="214.60" cy="489.50" r="1.6" fill="#ff8000"/>
<circle cx="230.10" cy="486.00" r="1.6" fill="#1a1aff"/>
<circle cx="235.70" cy="491.00" r="1.6" fill="#ff1a1a"/>
<circle cx="248.50" cy="492.10" r="1.6" fill="#ff1a88"/>
<circle cx="232.80" cy="495.00" r="1.6" fill="#cc11ee"/>
<circle cx="241.90" cy="495.00" r="1.6" fill="#11cc11"/>
<circle cx="231.30" cy="498.00" r="1.6" fill="#11cc11"/>
<circle cx="218.50" cy="506.00" r="1.6" fill="#1a1aff"/>
<circle cx="202.20" cy="510.30" r="1.6" fill="#ff1a1a"/>
<circle cx="219.70" cy="519.10" r="1.6" fill="#ff8000"/>
<text class="b" x="329.50" y="455.80" font-size="6.4" font-weight="bold" text-anchor="middle" fill="#111">Day 9 Malaria Postive</text>
<line x1="339.10" y1="463.90" x2="339.10" y2="529.90" stroke="#1a1a1a" stroke-width="0.9" stroke-linecap="butt"/>
<line x1="336.90" y1="464.30" x2="339.10" y2="464.30" stroke="#1a1a1a" stroke-width="0.9" stroke-linecap="butt"/>
<text class="b" x="335.80" y="466.10" font-size="5.0" font-weight="bold" text-anchor="end" fill="#222">2</text>
<line x1="336.90" y1="477.30" x2="339.10" y2="477.30" stroke="#1a1a1a" stroke-width="0.9" stroke-linecap="butt"/>
<text class="b" x="335.80" y="479.10" font-size="5.0" font-weight="bold" text-anchor="end" fill="#222">1</text>
<line x1="336.90" y1="490.20" x2="339.10" y2="490.20" stroke="#1a1a1a" stroke-width="0.9" stroke-linecap="butt"/>
<line x1="336.90" y1="503.20" x2="339.10" y2="503.20" stroke="#1a1a1a" stroke-width="0.9" stroke-linecap="butt"/>
<text class="b" x="335.80" y="505.00" font-size="5.0" font-weight="bold" text-anchor="end" fill="#222">-1</text>
<line x1="336.90" y1="516.40" x2="339.10" y2="516.40" stroke="#1a1a1a" stroke-width="0.9" stroke-linecap="butt"/>
<text class="b" x="335.80" y="518.20" font-size="5.0" font-weight="bold" text-anchor="end" fill="#222">-2</text>
<line x1="336.90" y1="529.50" x2="339.10" y2="529.50" stroke="#1a1a1a" stroke-width="0.9" stroke-linecap="butt"/>
<text class="b" x="335.80" y="531.30" font-size="5.0" font-weight="bold" text-anchor="end" fill="#222">-3</text>
<line x1="280.60" y1="490.20" x2="378.70" y2="490.20" stroke="#1a1a1a" stroke-width="0.9" stroke-linecap="butt"/>
<line x1="280.60" y1="490.20" x2="280.60" y2="492.20" stroke="#1a1a1a" stroke-width="0.9" stroke-linecap="butt"/>
<text class="b" x="280.60" y="498.60" font-size="5.0" font-weight="bold" text-anchor="middle" fill="#222">-6</text>
<line x1="300.40" y1="490.20" x2="300.40" y2="492.20" stroke="#1a1a1a" stroke-width="0.9" stroke-linecap="butt"/>
<text class="b" x="300.40" y="498.60" font-size="5.0" font-weight="bold" text-anchor="middle" fill="#222">-4</text>
<line x1="320.00" y1="490.20" x2="320.00" y2="492.20" stroke="#1a1a1a" stroke-width="0.9" stroke-linecap="butt"/>
<text class="b" x="320.00" y="498.60" font-size="5.0" font-weight="bold" text-anchor="middle" fill="#222">-2</text>
<line x1="339.10" y1="490.20" x2="339.10" y2="492.20" stroke="#1a1a1a" stroke-width="0.9" stroke-linecap="butt"/>
<line x1="358.70" y1="490.20" x2="358.70" y2="492.20" stroke="#1a1a1a" stroke-width="0.9" stroke-linecap="butt"/>
<text class="b" x="358.70" y="498.60" font-size="5.0" font-weight="bold" text-anchor="middle" fill="#222">2</text>
<line x1="378.70" y1="490.20" x2="378.70" y2="492.20" stroke="#1a1a1a" stroke-width="0.9" stroke-linecap="butt"/>
<text class="b" x="378.70" y="498.60" font-size="5.0" font-weight="bold" text-anchor="middle" fill="#222">4</text>
<text class="b" x="269.70" y="484.80" font-size="5.4" font-weight="bold" text-anchor="middle" fill="#111" transform="rotate(-90 269.70 484.80)">log (let-7i-5p)</text>
<text class="b" x="336.80" y="540.00" font-size="5.4" font-weight="bold" text-anchor="middle" fill="#111">log (miR-451a)</text>
<path d="M297.10,471.30 Q330.00,492.00 370.90,480.90" fill="none" stroke="#888" stroke-width="0.75" stroke-dasharray="0.9,1.2"/>
<path d="M297.10,500.10 Q330.00,490.00 370.90,520.50" fill="none" stroke="#888" stroke-width="0.75" stroke-dasharray="0.9,1.2"/>
<line x1="297.10" y1="485.60" x2="370.90" y2="500.60" stroke="#2a2a2a" stroke-width="1.0" stroke-linecap="butt"/>
<circle cx="310.70" cy="466.60" r="1.6" fill="#1a1aff"/>
<circle cx="322.30" cy="468.80" r="1.6" fill="#cc11ee"/>
<circle cx="297.10" cy="477.10" r="1.6" fill="#cc11ee"/>
<circle cx="336.90" cy="475.80" r="1.6" fill="#11cc11"/>
<circle cx="340.50" cy="485.90" r="1.6" fill="#11cc11"/>
<circle cx="301.50" cy="482.20" r="1.6" fill="#ff8000"/>
<circle cx="305.60" cy="482.70" r="1.6" fill="#ff1a1a"/>
<circle cx="319.80" cy="482.70" r="1.6" fill="#ff8000"/>
<circle cx="319.40" cy="485.30" r="1.6" fill="#ff1a88"/>
<circle cx="324.80" cy="488.80" r="1.6" fill="#ff1a88"/>
<circle cx="323.00" cy="496.00" r="1.6" fill="#1a1aff"/>
<circle cx="322.30" cy="501.60" r="1.6" fill="#ff1a1a"/>
<circle cx="325.60" cy="506.70" r="1.6" fill="#ff1a88"/>
<circle cx="306.60" cy="509.90" r="1.6" fill="#ff1a88"/>
<circle cx="324.80" cy="512.10" r="1.6" fill="#ff1a1a"/>
<circle cx="328.10" cy="512.90" r="1.6" fill="#11cc11"/>
<circle cx="370.90" cy="479.50" r="1.6" fill="#1a1aff"/>
<circle cx="348.70" cy="487.00" r="1.6" fill="#ff1a1a"/>
<circle cx="346.60" cy="512.80" r="1.6" fill="#ff8000"/>
<circle cx="356.40" cy="519.00" r="1.6" fill="#cc11ee"/>
<text class="b" x="449.70" y="456.00" font-size="6.25" font-weight="bold" text-anchor="middle" fill="#111">Day 16 Malaria Postive</text>
<line x1="401.80" y1="463.40" x2="401.80" y2="527.60" stroke="#1a1a1a" stroke-width="0.9" stroke-linecap="butt"/>
<line x1="399.60" y1="463.80" x2="401.80" y2="463.80" stroke="#1a1a1a" stroke-width="0.9" stroke-linecap="butt"/>
<text class="b" x="398.50" y="465.60" font-size="5.0" font-weight="bold" text-anchor="end" fill="#222">2</text>
<line x1="399.60" y1="479.60" x2="401.80" y2="479.60" stroke="#1a1a1a" stroke-width="0.9" stroke-linecap="butt"/>
<text class="b" x="398.50" y="481.40" font-size="5.0" font-weight="bold" text-anchor="end" fill="#222">1</text>
<line x1="399.60" y1="495.60" x2="401.80" y2="495.60" stroke="#1a1a1a" stroke-width="0.9" stroke-linecap="butt"/>
<text class="b" x="398.50" y="497.40" font-size="5.0" font-weight="bold" text-anchor="end" fill="#222">0</text>
<line x1="399.60" y1="511.40" x2="401.80" y2="511.40" stroke="#1a1a1a" stroke-width="0.9" stroke-linecap="butt"/>
<text class="b" x="398.50" y="513.20" font-size="5.0" font-weight="bold" text-anchor="end" fill="#222">-1</text>
<line x1="399.60" y1="527.20" x2="401.80" y2="527.20" stroke="#1a1a1a" stroke-width="0.9" stroke-linecap="butt"/>
<text class="b" x="398.50" y="529.00" font-size="5.0" font-weight="bold" text-anchor="end" fill="#222">-2</text>
<line x1="401.80" y1="495.60" x2="497.70" y2="495.60" stroke="#1a1a1a" stroke-width="0.9" stroke-linecap="butt"/>
<line x1="425.80" y1="495.60" x2="425.80" y2="497.60" stroke="#1a1a1a" stroke-width="0.9" stroke-linecap="butt"/>
<text class="b" x="425.80" y="504.00" font-size="5.0" font-weight="bold" text-anchor="middle" fill="#222">-3</text>
<line x1="449.60" y1="495.60" x2="449.60" y2="497.60" stroke="#1a1a1a" stroke-width="0.9" stroke-linecap="butt"/>
<text class="b" x="449.60" y="504.00" font-size="5.0" font-weight="bold" text-anchor="middle" fill="#222">-2</text>
<line x1="473.90" y1="495.60" x2="473.90" y2="497.60" stroke="#1a1a1a" stroke-width="0.9" stroke-linecap="butt"/>
<text class="b" x="473.90" y="504.00" font-size="5.0" font-weight="bold" text-anchor="middle" fill="#222">-1</text>
<line x1="497.70" y1="495.60" x2="497.70" y2="497.60" stroke="#1a1a1a" stroke-width="0.9" stroke-linecap="butt"/>
<text class="b" x="497.70" y="504.00" font-size="5.0" font-weight="bold" text-anchor="middle" fill="#222">0</text>
<text class="b" x="390.90" y="495.50" font-size="5.4" font-weight="bold" text-anchor="middle" fill="#111" transform="rotate(-90 390.90 495.50)">log (let-7i-5p)</text>
<text class="b" x="450.70" y="528.00" font-size="5.4" font-weight="bold" text-anchor="middle" fill="#111">log (miR-451a)</text>
<path d="M413.00,495.40 Q450.00,497.50 490.30,477.50" fill="none" stroke="#888" stroke-width="0.75" stroke-dasharray="0.9,1.2"/>
<path d="M419.20,514.40 Q445.00,503.00 490.30,510.00" fill="none" stroke="#888" stroke-width="0.75" stroke-dasharray="0.9,1.2"/>
<line x1="413.90" y1="506.40" x2="490.30" y2="494.00" stroke="#2a2a2a" stroke-width="1.0" stroke-linecap="butt"/>
<circle cx="415.80" cy="483.40" r="1.6" fill="#ff8000"/>
<circle cx="413.30" cy="491.40" r="1.6" fill="#ff1a1a"/>
<circle cx="415.80" cy="500.10" r="1.6" fill="#ff1a1a"/>
<circle cx="436.90" cy="490.60" r="1.6" fill="#ff8000"/>
<circle cx="462.70" cy="486.40" r="1.6" fill="#1a1aff"/>
<circle cx="460.20" cy="489.60" r="1.6" fill="#1a1aff"/>
<circle cx="470.20" cy="496.40" r="1.6" fill="#ff1a88"/>
<circle cx="489.70" cy="493.90" r="1.6" fill="#11cc11"/>
<circle cx="448.10" cy="502.60" r="1.6" fill="#1a1aff"/>
<circle cx="457.70" cy="503.10" r="1.6" fill="#cc11ee"/>
<circle cx="467.70" cy="506.40" r="1.6" fill="#11cc11"/>
<circle cx="420.10" cy="515.70" r="1.6" fill="#1a1aff"/>
<circle cx="415.80" cy="518.20" r="1.6" fill="#ff1a88"/>
<circle cx="428.80" cy="521.40" r="1.6" fill="#11cc11"/>
<circle cx="426.80" cy="522.70" r="1.6" fill="#cc11ee"/>
<text class="b" x="9.60" y="21.60" font-size="18.5" font-weight="bold" text-anchor="start" fill="#000">A</text>
<text class="b" x="22.60" y="21.60" font-size="18.5" font-weight="bold" text-anchor="start" fill="#000">.</text>
<text class="b" x="199.00" y="21.60" font-size="18.5" font-weight="bold" text-anchor="start" fill="#000">B</text>
<text class="b" x="212.60" y="21.60" font-size="18.5" font-weight="bold" text-anchor="start" fill="#000">.</text>
<text class="b" x="10.20" y="176.60" font-size="18.5" font-weight="bold" text-anchor="start" fill="#000">C</text>
<text class="b" x="23.00" y="176.60" font-size="18.5" font-weight="bold" text-anchor="start" fill="#000">.</text>
<text class="b" x="198.90" y="176.80" font-size="18.5" font-weight="bold" text-anchor="start" fill="#000">D</text>
<text class="b" x="212.60" y="176.80" font-size="18.5" font-weight="bold" text-anchor="start" fill="#000">.</text>
<text class="b" x="9.40" y="349.60" font-size="18" font-weight="bold" text-anchor="start" fill="#000">E</text>
<text class="b" x="23.10" y="349.60" font-size="18" font-weight="bold" text-anchor="start" fill="#000">.</text>
<text class="b" x="130.00" y="350.00" font-size="18" font-weight="bold" text-anchor="start" fill="#000">F</text>
<text class="b" x="141.70" y="350.00" font-size="18" font-weight="bold" text-anchor="start" fill="#000">.</text>
<text class="b" x="254.40" y="350.00" font-size="18" font-weight="bold" text-anchor="start" fill="#000">G</text>
<text class="b" x="269.60" y="350.00" font-size="18" font-weight="bold" text-anchor="start" fill="#000">.</text>
<text class="b" x="387.00" y="350.00" font-size="18" font-weight="bold" text-anchor="start" fill="#000">H</text>
<text class="b" x="401.80" y="350.00" font-size="18" font-weight="bold" text-anchor="start" fill="#000">.</text>
<text class="b" x="10.00" y="459.20" font-size="18" font-weight="bold" text-anchor="start" fill="#000">I</text>
<text class="b" x="14.80" y="459.20" font-size="18" font-weight="bold" text-anchor="start" fill="#000">.</text>
<text class="b" x="129.90" y="459.20" font-size="18" font-weight="bold" text-anchor="start" fill="#000">J</text>
<text class="b" x="141.10" y="459.20" font-size="18" font-weight="bold" text-anchor="start" fill="#000">.</text>
<text class="b" x="254.90" y="459.20" font-size="18" font-weight="bold" text-anchor="start" fill="#000">K</text>
<text class="b" x="269.30" y="459.20" font-size="18" font-weight="bold" text-anchor="start" fill="#000">.</text>
<text class="b" x="387.70" y="459.20" font-size="18" font-weight="bold" text-anchor="start" fill="#000">L</text>
<text class="b" x="400.10" y="459.20" font-size="18" font-weight="bold" text-anchor="start" fill="#000">.</text>
</svg>
</body></html>
